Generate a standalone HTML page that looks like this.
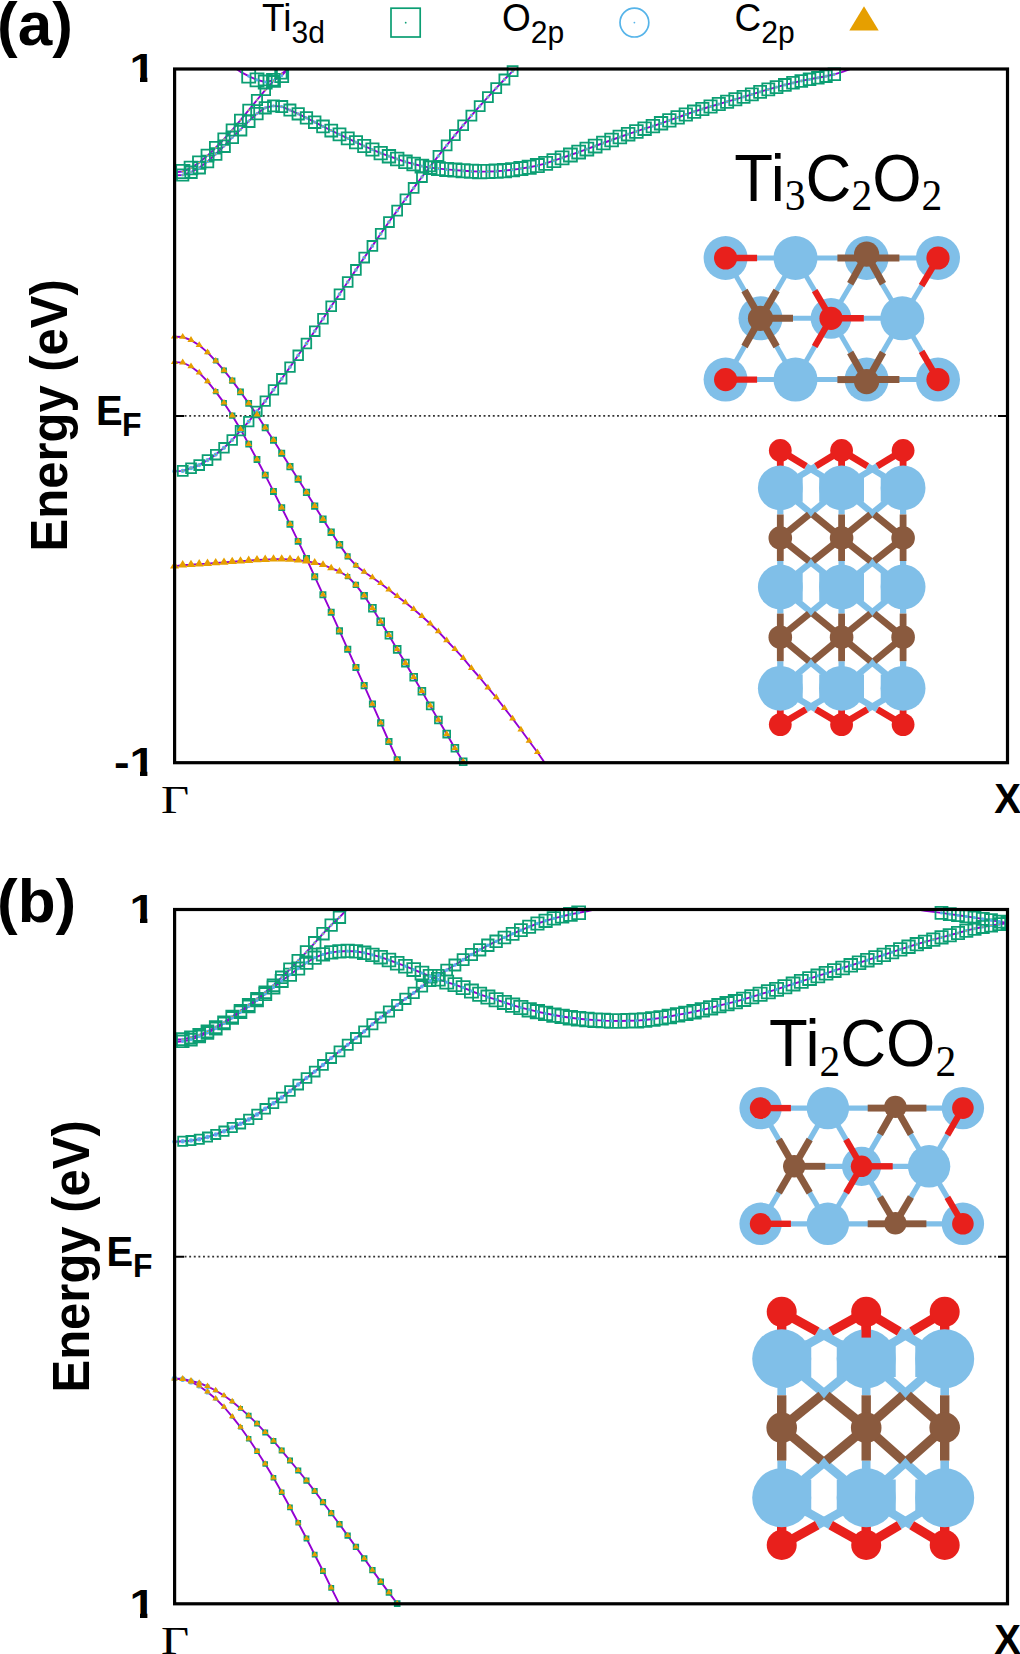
<!DOCTYPE html>
<html lang="en"><head><meta charset="utf-8"><title>Band structure</title>
<style>html,body{margin:0;padding:0;background:#fff}svg{display:block}</style></head>
<body>
<svg width="1020" height="1654" viewBox="0 0 1020 1654">
<defs><clipPath id="ca"><rect x="174.6" y="69.0" width="832.9" height="693.7"/></clipPath><clipPath id="cb"><rect x="174.6" y="909.5" width="832.9" height="694.3"/></clipPath><clipPath id="cax"><rect x="174.6" y="0" width="832.9" height="1654"/></clipPath><clipPath id="cbx"><rect x="174.6" y="0" width="832.9" height="1654"/></clipPath></defs>
<rect width="1020" height="1654" fill="#fff"/>
<g stroke-linecap="butt">
<line x1="725.6" y1="258" x2="938" y2="258" stroke="#80bfe8" stroke-width="5"/>
<line x1="725.6" y1="379.6" x2="938" y2="379.6" stroke="#80bfe8" stroke-width="5"/>
<line x1="760.5" y1="318.3" x2="902.3" y2="318.3" stroke="#80bfe8" stroke-width="5"/>
<line x1="725.6" y1="258" x2="760.5" y2="318.3" stroke="#80bfe8" stroke-width="5"/>
<line x1="795.5" y1="258" x2="760.5" y2="318.3" stroke="#80bfe8" stroke-width="5"/>
<line x1="795.5" y1="258" x2="831" y2="318.3" stroke="#80bfe8" stroke-width="5"/>
<line x1="866.6" y1="258" x2="831" y2="318.3" stroke="#80bfe8" stroke-width="5"/>
<line x1="866.6" y1="258" x2="902.3" y2="318.3" stroke="#80bfe8" stroke-width="5"/>
<line x1="938" y1="258" x2="902.3" y2="318.3" stroke="#80bfe8" stroke-width="5"/>
<line x1="725.6" y1="379.6" x2="760.5" y2="318.3" stroke="#80bfe8" stroke-width="5"/>
<line x1="795.5" y1="379.6" x2="760.5" y2="318.3" stroke="#80bfe8" stroke-width="5"/>
<line x1="795.5" y1="379.6" x2="831" y2="318.3" stroke="#80bfe8" stroke-width="5"/>
<line x1="866.6" y1="379.6" x2="831" y2="318.3" stroke="#80bfe8" stroke-width="5"/>
<line x1="866.6" y1="379.6" x2="902.3" y2="318.3" stroke="#80bfe8" stroke-width="5"/>
<line x1="938" y1="379.6" x2="902.3" y2="318.3" stroke="#80bfe8" stroke-width="5"/>
<circle cx="725.6" cy="258" r="22" fill="#80bfe8"/>
<circle cx="795.5" cy="258" r="22" fill="#80bfe8"/>
<circle cx="938" cy="258" r="22" fill="#80bfe8"/>
<circle cx="831" cy="318.3" r="20.4" fill="#80bfe8"/>
<circle cx="902.3" cy="318.3" r="22" fill="#80bfe8"/>
<circle cx="725.6" cy="379.6" r="22" fill="#80bfe8"/>
<circle cx="795.5" cy="379.6" r="22" fill="#80bfe8"/>
<circle cx="938" cy="379.6" r="22" fill="#80bfe8"/>
<circle cx="866.6" cy="258" r="22" fill="#80bfe8"/>
<circle cx="760.5" cy="318.3" r="22" fill="#80bfe8"/>
<circle cx="866.6" cy="379.6" r="22" fill="#80bfe8"/>
<line x1="866.6" y1="258" x2="837.4" y2="258" stroke="#8a5a3e" stroke-width="7"/>
<line x1="866.6" y1="258" x2="899.4" y2="258" stroke="#8a5a3e" stroke-width="7"/>
<line x1="866.6" y1="254.2" x2="850.2" y2="283.7" stroke="#8a5a3e" stroke-width="7"/>
<line x1="866.6" y1="254.2" x2="883" y2="283.7" stroke="#8a5a3e" stroke-width="7"/>
<line x1="866.6" y1="379.6" x2="837.4" y2="379.6" stroke="#8a5a3e" stroke-width="7"/>
<line x1="866.6" y1="379.6" x2="899.4" y2="379.6" stroke="#8a5a3e" stroke-width="7"/>
<line x1="866.6" y1="381.6" x2="850.2" y2="352.5" stroke="#8a5a3e" stroke-width="7"/>
<line x1="866.6" y1="381.6" x2="883" y2="352.5" stroke="#8a5a3e" stroke-width="7"/>
<line x1="760.5" y1="318.3" x2="793" y2="318.3" stroke="#8a5a3e" stroke-width="7"/>
<line x1="760.5" y1="318.3" x2="744.5" y2="290.6" stroke="#8a5a3e" stroke-width="7"/>
<line x1="760.5" y1="318.3" x2="776.6" y2="290.6" stroke="#8a5a3e" stroke-width="7"/>
<line x1="760.5" y1="318.3" x2="744.5" y2="346.5" stroke="#8a5a3e" stroke-width="7"/>
<line x1="760.5" y1="318.3" x2="776.6" y2="346.5" stroke="#8a5a3e" stroke-width="7"/>
<line x1="725.6" y1="258" x2="757.1" y2="258" stroke="#e8201c" stroke-width="6.4"/>
<line x1="725.6" y1="379.6" x2="757.1" y2="379.6" stroke="#e8201c" stroke-width="6.4"/>
<line x1="938" y1="258" x2="921.6" y2="285.7" stroke="#e8201c" stroke-width="6.4"/>
<line x1="938" y1="379.6" x2="921.6" y2="351.4" stroke="#e8201c" stroke-width="6.4"/>
<line x1="831" y1="318.3" x2="814.7" y2="290.6" stroke="#e8201c" stroke-width="6.4"/>
<line x1="831" y1="318.3" x2="863.8" y2="318.3" stroke="#e8201c" stroke-width="6.4"/>
<line x1="831" y1="318.3" x2="814.7" y2="346.5" stroke="#e8201c" stroke-width="6.4"/>
<circle cx="866.6" cy="254.2" r="12.6" fill="#8a5a3e"/>
<circle cx="760.5" cy="318.3" r="12.6" fill="#8a5a3e"/>
<circle cx="866.6" cy="381.6" r="12.6" fill="#8a5a3e"/>
<circle cx="725.6" cy="258" r="11.6" fill="#e8201c"/>
<circle cx="938" cy="258" r="11.6" fill="#e8201c"/>
<circle cx="831" cy="318.3" r="11.6" fill="#e8201c"/>
<circle cx="725.6" cy="379.6" r="11.6" fill="#e8201c"/>
<circle cx="938" cy="379.6" r="11.6" fill="#e8201c"/>
<line x1="780.3" y1="466.2" x2="780.3" y2="487.9" stroke="#80bfe8" stroke-width="6.256"/>
<line x1="806" y1="466.2" x2="841.6" y2="487.9" stroke="#80bfe8" stroke-width="6.256"/>
<line x1="841.6" y1="466.2" x2="841.6" y2="487.9" stroke="#80bfe8" stroke-width="6.256"/>
<line x1="815.9" y1="466.2" x2="780.3" y2="487.9" stroke="#80bfe8" stroke-width="6.256"/>
<line x1="867.4" y1="466.2" x2="903.1" y2="487.9" stroke="#80bfe8" stroke-width="6.256"/>
<line x1="903.1" y1="466.2" x2="903.1" y2="487.9" stroke="#80bfe8" stroke-width="6.256"/>
<line x1="877.3" y1="466.2" x2="841.6" y2="487.9" stroke="#80bfe8" stroke-width="6.256"/>
<line x1="780.3" y1="514.5" x2="780.3" y2="487.9" stroke="#80bfe8" stroke-width="6.256"/>
<line x1="812.8" y1="514.5" x2="780.3" y2="487.9" stroke="#80bfe8" stroke-width="6.256"/>
<line x1="841.6" y1="514.5" x2="841.6" y2="487.9" stroke="#80bfe8" stroke-width="6.256"/>
<line x1="809.1" y1="514.5" x2="841.6" y2="487.9" stroke="#80bfe8" stroke-width="6.256"/>
<line x1="874.2" y1="514.5" x2="841.6" y2="487.9" stroke="#80bfe8" stroke-width="6.256"/>
<line x1="903.1" y1="514.5" x2="903.1" y2="487.9" stroke="#80bfe8" stroke-width="6.256"/>
<line x1="870.5" y1="514.5" x2="903.1" y2="487.9" stroke="#80bfe8" stroke-width="6.256"/>
<line x1="780.3" y1="561" x2="780.3" y2="587" stroke="#80bfe8" stroke-width="6.256"/>
<line x1="809.1" y1="561" x2="841.6" y2="587" stroke="#80bfe8" stroke-width="6.256"/>
<line x1="841.6" y1="561" x2="841.6" y2="587" stroke="#80bfe8" stroke-width="6.256"/>
<line x1="812.8" y1="561" x2="780.3" y2="587" stroke="#80bfe8" stroke-width="6.256"/>
<line x1="870.5" y1="561" x2="903.1" y2="587" stroke="#80bfe8" stroke-width="6.256"/>
<line x1="903.1" y1="561" x2="903.1" y2="587" stroke="#80bfe8" stroke-width="6.256"/>
<line x1="874.2" y1="561" x2="841.6" y2="587" stroke="#80bfe8" stroke-width="6.256"/>
<line x1="780.3" y1="613.6" x2="780.3" y2="587" stroke="#80bfe8" stroke-width="6.256"/>
<line x1="812.8" y1="613.6" x2="780.3" y2="587" stroke="#80bfe8" stroke-width="6.256"/>
<line x1="841.6" y1="613.6" x2="841.6" y2="587" stroke="#80bfe8" stroke-width="6.256"/>
<line x1="809.1" y1="613.6" x2="841.6" y2="587" stroke="#80bfe8" stroke-width="6.256"/>
<line x1="874.2" y1="613.6" x2="841.6" y2="587" stroke="#80bfe8" stroke-width="6.256"/>
<line x1="903.1" y1="613.6" x2="903.1" y2="587" stroke="#80bfe8" stroke-width="6.256"/>
<line x1="870.5" y1="613.6" x2="903.1" y2="587" stroke="#80bfe8" stroke-width="6.256"/>
<line x1="780.3" y1="661.2" x2="780.3" y2="688.3" stroke="#80bfe8" stroke-width="6.256"/>
<line x1="809.1" y1="661.2" x2="841.6" y2="688.3" stroke="#80bfe8" stroke-width="6.256"/>
<line x1="841.6" y1="661.2" x2="841.6" y2="688.3" stroke="#80bfe8" stroke-width="6.256"/>
<line x1="812.8" y1="661.2" x2="780.3" y2="688.3" stroke="#80bfe8" stroke-width="6.256"/>
<line x1="870.5" y1="661.2" x2="903.1" y2="688.3" stroke="#80bfe8" stroke-width="6.256"/>
<line x1="903.1" y1="661.2" x2="903.1" y2="688.3" stroke="#80bfe8" stroke-width="6.256"/>
<line x1="874.2" y1="661.2" x2="841.6" y2="688.3" stroke="#80bfe8" stroke-width="6.256"/>
<line x1="780.3" y1="709.4" x2="780.3" y2="688.3" stroke="#80bfe8" stroke-width="6.256"/>
<line x1="815.9" y1="709.4" x2="780.3" y2="688.3" stroke="#80bfe8" stroke-width="6.256"/>
<line x1="841.6" y1="709.4" x2="841.6" y2="688.3" stroke="#80bfe8" stroke-width="6.256"/>
<line x1="806" y1="709.4" x2="841.6" y2="688.3" stroke="#80bfe8" stroke-width="6.256"/>
<line x1="877.3" y1="709.4" x2="841.6" y2="688.3" stroke="#80bfe8" stroke-width="6.256"/>
<line x1="903.1" y1="709.4" x2="903.1" y2="688.3" stroke="#80bfe8" stroke-width="6.256"/>
<line x1="867.4" y1="709.4" x2="903.1" y2="688.3" stroke="#80bfe8" stroke-width="6.256"/>
<line x1="800.2" y1="474" x2="800.2" y2="501.8" stroke="#80bfe8" stroke-width="5.0"/>
<line x1="821.7" y1="474" x2="821.7" y2="501.8" stroke="#80bfe8" stroke-width="5.0"/>
<line x1="861.5" y1="474" x2="861.5" y2="501.8" stroke="#80bfe8" stroke-width="5.0"/>
<line x1="883.2" y1="474" x2="883.2" y2="501.8" stroke="#80bfe8" stroke-width="5.0"/>
<line x1="800.2" y1="573.1" x2="800.2" y2="600.9" stroke="#80bfe8" stroke-width="5.0"/>
<line x1="821.7" y1="573.1" x2="821.7" y2="600.9" stroke="#80bfe8" stroke-width="5.0"/>
<line x1="861.5" y1="573.1" x2="861.5" y2="600.9" stroke="#80bfe8" stroke-width="5.0"/>
<line x1="883.2" y1="573.1" x2="883.2" y2="600.9" stroke="#80bfe8" stroke-width="5.0"/>
<line x1="800.2" y1="674.4" x2="800.2" y2="702.2" stroke="#80bfe8" stroke-width="5.0"/>
<line x1="821.7" y1="674.4" x2="821.7" y2="702.2" stroke="#80bfe8" stroke-width="5.0"/>
<line x1="861.5" y1="674.4" x2="861.5" y2="702.2" stroke="#80bfe8" stroke-width="5.0"/>
<line x1="883.2" y1="674.4" x2="883.2" y2="702.2" stroke="#80bfe8" stroke-width="5.0"/>
<line x1="780.3" y1="450.5" x2="780.3" y2="466.2" stroke="#e8201c" stroke-width="6.8"/>
<line x1="780.3" y1="450.5" x2="806" y2="466.2" stroke="#e8201c" stroke-width="6.8"/>
<line x1="841.6" y1="450.5" x2="841.6" y2="466.2" stroke="#e8201c" stroke-width="6.8"/>
<line x1="841.6" y1="450.5" x2="815.9" y2="466.2" stroke="#e8201c" stroke-width="6.8"/>
<line x1="841.6" y1="450.5" x2="867.4" y2="466.2" stroke="#e8201c" stroke-width="6.8"/>
<line x1="903.1" y1="450.5" x2="903.1" y2="466.2" stroke="#e8201c" stroke-width="6.8"/>
<line x1="903.1" y1="450.5" x2="877.3" y2="466.2" stroke="#e8201c" stroke-width="6.8"/>
<line x1="780.3" y1="538" x2="780.3" y2="514.5" stroke="#8a5a3e" stroke-width="6.8"/>
<line x1="841.6" y1="538" x2="812.8" y2="514.5" stroke="#8a5a3e" stroke-width="6.8"/>
<line x1="841.6" y1="538" x2="841.6" y2="514.5" stroke="#8a5a3e" stroke-width="6.8"/>
<line x1="780.3" y1="538" x2="809.1" y2="514.5" stroke="#8a5a3e" stroke-width="6.8"/>
<line x1="903.1" y1="538" x2="874.2" y2="514.5" stroke="#8a5a3e" stroke-width="6.8"/>
<line x1="903.1" y1="538" x2="903.1" y2="514.5" stroke="#8a5a3e" stroke-width="6.8"/>
<line x1="841.6" y1="538" x2="870.5" y2="514.5" stroke="#8a5a3e" stroke-width="6.8"/>
<line x1="780.3" y1="538" x2="780.3" y2="561" stroke="#8a5a3e" stroke-width="6.8"/>
<line x1="780.3" y1="538" x2="809.1" y2="561" stroke="#8a5a3e" stroke-width="6.8"/>
<line x1="841.6" y1="538" x2="841.6" y2="561" stroke="#8a5a3e" stroke-width="6.8"/>
<line x1="841.6" y1="538" x2="812.8" y2="561" stroke="#8a5a3e" stroke-width="6.8"/>
<line x1="841.6" y1="538" x2="870.5" y2="561" stroke="#8a5a3e" stroke-width="6.8"/>
<line x1="903.1" y1="538" x2="903.1" y2="561" stroke="#8a5a3e" stroke-width="6.8"/>
<line x1="903.1" y1="538" x2="874.2" y2="561" stroke="#8a5a3e" stroke-width="6.8"/>
<line x1="780.3" y1="637.2" x2="780.3" y2="613.6" stroke="#8a5a3e" stroke-width="6.8"/>
<line x1="841.6" y1="637.2" x2="812.8" y2="613.6" stroke="#8a5a3e" stroke-width="6.8"/>
<line x1="841.6" y1="637.2" x2="841.6" y2="613.6" stroke="#8a5a3e" stroke-width="6.8"/>
<line x1="780.3" y1="637.2" x2="809.1" y2="613.6" stroke="#8a5a3e" stroke-width="6.8"/>
<line x1="903.1" y1="637.2" x2="874.2" y2="613.6" stroke="#8a5a3e" stroke-width="6.8"/>
<line x1="903.1" y1="637.2" x2="903.1" y2="613.6" stroke="#8a5a3e" stroke-width="6.8"/>
<line x1="841.6" y1="637.2" x2="870.5" y2="613.6" stroke="#8a5a3e" stroke-width="6.8"/>
<line x1="780.3" y1="637.2" x2="780.3" y2="661.2" stroke="#8a5a3e" stroke-width="6.8"/>
<line x1="780.3" y1="637.2" x2="809.1" y2="661.2" stroke="#8a5a3e" stroke-width="6.8"/>
<line x1="841.6" y1="637.2" x2="841.6" y2="661.2" stroke="#8a5a3e" stroke-width="6.8"/>
<line x1="841.6" y1="637.2" x2="812.8" y2="661.2" stroke="#8a5a3e" stroke-width="6.8"/>
<line x1="841.6" y1="637.2" x2="870.5" y2="661.2" stroke="#8a5a3e" stroke-width="6.8"/>
<line x1="903.1" y1="637.2" x2="903.1" y2="661.2" stroke="#8a5a3e" stroke-width="6.8"/>
<line x1="903.1" y1="637.2" x2="874.2" y2="661.2" stroke="#8a5a3e" stroke-width="6.8"/>
<line x1="780.3" y1="724.6" x2="780.3" y2="709.4" stroke="#e8201c" stroke-width="6.8"/>
<line x1="841.6" y1="724.6" x2="815.9" y2="709.4" stroke="#e8201c" stroke-width="6.8"/>
<line x1="841.6" y1="724.6" x2="841.6" y2="709.4" stroke="#e8201c" stroke-width="6.8"/>
<line x1="780.3" y1="724.6" x2="806" y2="709.4" stroke="#e8201c" stroke-width="6.8"/>
<line x1="903.1" y1="724.6" x2="877.3" y2="709.4" stroke="#e8201c" stroke-width="6.8"/>
<line x1="903.1" y1="724.6" x2="903.1" y2="709.4" stroke="#e8201c" stroke-width="6.8"/>
<line x1="841.6" y1="724.6" x2="867.4" y2="709.4" stroke="#e8201c" stroke-width="6.8"/>
<circle cx="780.3" cy="487.9" r="22.4" fill="#80bfe8"/>
<circle cx="841.6" cy="487.9" r="22.4" fill="#80bfe8"/>
<circle cx="903.1" cy="487.9" r="22.4" fill="#80bfe8"/>
<circle cx="780.3" cy="587" r="22.4" fill="#80bfe8"/>
<circle cx="841.6" cy="587" r="22.4" fill="#80bfe8"/>
<circle cx="903.1" cy="587" r="22.4" fill="#80bfe8"/>
<circle cx="780.3" cy="688.3" r="22.4" fill="#80bfe8"/>
<circle cx="841.6" cy="688.3" r="22.4" fill="#80bfe8"/>
<circle cx="903.1" cy="688.3" r="22.4" fill="#80bfe8"/>
<circle cx="780.3" cy="450.5" r="11.4" fill="#e8201c"/>
<circle cx="841.6" cy="450.5" r="11.4" fill="#e8201c"/>
<circle cx="903.1" cy="450.5" r="11.4" fill="#e8201c"/>
<circle cx="780.3" cy="538" r="11.8" fill="#8a5a3e"/>
<circle cx="841.6" cy="538" r="11.8" fill="#8a5a3e"/>
<circle cx="903.1" cy="538" r="11.8" fill="#8a5a3e"/>
<circle cx="780.3" cy="637.2" r="11.8" fill="#8a5a3e"/>
<circle cx="841.6" cy="637.2" r="11.8" fill="#8a5a3e"/>
<circle cx="903.1" cy="637.2" r="11.8" fill="#8a5a3e"/>
<circle cx="780.3" cy="724.6" r="11.4" fill="#e8201c"/>
<circle cx="841.6" cy="724.6" r="11.4" fill="#e8201c"/>
<circle cx="903.1" cy="724.6" r="11.4" fill="#e8201c"/>
<line x1="760.6" y1="1108.1" x2="962.9" y2="1108.1" stroke="#80bfe8" stroke-width="5.3"/>
<line x1="760.6" y1="1223.8" x2="962.9" y2="1223.8" stroke="#80bfe8" stroke-width="5.3"/>
<line x1="794.2" y1="1166.3" x2="929.1" y2="1166.3" stroke="#80bfe8" stroke-width="5.3"/>
<line x1="760.6" y1="1108.1" x2="794.2" y2="1166.3" stroke="#80bfe8" stroke-width="5.3"/>
<line x1="827.9" y1="1108.1" x2="794.2" y2="1166.3" stroke="#80bfe8" stroke-width="5.3"/>
<line x1="827.9" y1="1108.1" x2="861.6" y2="1166.3" stroke="#80bfe8" stroke-width="5.3"/>
<line x1="895.4" y1="1108.1" x2="861.6" y2="1166.3" stroke="#80bfe8" stroke-width="5.3"/>
<line x1="895.4" y1="1108.1" x2="929.1" y2="1166.3" stroke="#80bfe8" stroke-width="5.3"/>
<line x1="962.9" y1="1108.1" x2="929.1" y2="1166.3" stroke="#80bfe8" stroke-width="5.3"/>
<line x1="760.6" y1="1223.8" x2="794.2" y2="1166.3" stroke="#80bfe8" stroke-width="5.3"/>
<line x1="827.9" y1="1223.8" x2="794.2" y2="1166.3" stroke="#80bfe8" stroke-width="5.3"/>
<line x1="827.9" y1="1223.8" x2="861.6" y2="1166.3" stroke="#80bfe8" stroke-width="5.3"/>
<line x1="895.4" y1="1223.8" x2="861.6" y2="1166.3" stroke="#80bfe8" stroke-width="5.3"/>
<line x1="895.4" y1="1223.8" x2="929.1" y2="1166.3" stroke="#80bfe8" stroke-width="5.3"/>
<line x1="962.9" y1="1223.8" x2="929.1" y2="1166.3" stroke="#80bfe8" stroke-width="5.3"/>
<circle cx="760.6" cy="1108.1" r="21.2" fill="#80bfe8"/>
<circle cx="827.9" cy="1108.1" r="21.2" fill="#80bfe8"/>
<circle cx="962.9" cy="1108.1" r="21.2" fill="#80bfe8"/>
<circle cx="861.6" cy="1166.3" r="19.6" fill="#80bfe8"/>
<circle cx="929.1" cy="1166.3" r="21.2" fill="#80bfe8"/>
<circle cx="760.6" cy="1223.8" r="21.2" fill="#80bfe8"/>
<circle cx="827.9" cy="1223.8" r="21.2" fill="#80bfe8"/>
<circle cx="962.9" cy="1223.8" r="21.2" fill="#80bfe8"/>
<line x1="895.4" y1="1108.1" x2="867.7" y2="1108.1" stroke="#8a5a3e" stroke-width="6.9"/>
<line x1="895.4" y1="1108.1" x2="926.4" y2="1108.1" stroke="#8a5a3e" stroke-width="6.9"/>
<line x1="895.4" y1="1106.9" x2="879.9" y2="1134.2" stroke="#8a5a3e" stroke-width="6.9"/>
<line x1="895.4" y1="1106.9" x2="910.9" y2="1134.2" stroke="#8a5a3e" stroke-width="6.9"/>
<line x1="895.4" y1="1223.8" x2="867.7" y2="1223.8" stroke="#8a5a3e" stroke-width="6.9"/>
<line x1="895.4" y1="1223.8" x2="926.4" y2="1223.8" stroke="#8a5a3e" stroke-width="6.9"/>
<line x1="895.4" y1="1223.3" x2="879.9" y2="1197.1" stroke="#8a5a3e" stroke-width="6.9"/>
<line x1="895.4" y1="1223.3" x2="910.9" y2="1197.1" stroke="#8a5a3e" stroke-width="6.9"/>
<line x1="794.2" y1="1166.3" x2="825.3" y2="1166.3" stroke="#8a5a3e" stroke-width="6.9"/>
<line x1="794.2" y1="1166.3" x2="778.8" y2="1139.5" stroke="#8a5a3e" stroke-width="6.9"/>
<line x1="794.2" y1="1166.3" x2="809.7" y2="1139.5" stroke="#8a5a3e" stroke-width="6.9"/>
<line x1="794.2" y1="1166.3" x2="778.8" y2="1192.8" stroke="#8a5a3e" stroke-width="6.9"/>
<line x1="794.2" y1="1166.3" x2="809.7" y2="1192.8" stroke="#8a5a3e" stroke-width="6.9"/>
<line x1="760.6" y1="1108.1" x2="790.9" y2="1108.1" stroke="#e8201c" stroke-width="6.4"/>
<line x1="760.6" y1="1223.8" x2="790.9" y2="1223.8" stroke="#e8201c" stroke-width="6.4"/>
<line x1="962.9" y1="1108.1" x2="947.4" y2="1134.9" stroke="#e8201c" stroke-width="6.4"/>
<line x1="962.9" y1="1223.8" x2="947.4" y2="1197.3" stroke="#e8201c" stroke-width="6.4"/>
<line x1="861.6" y1="1166.3" x2="846.1" y2="1139.5" stroke="#e8201c" stroke-width="6.4"/>
<line x1="861.6" y1="1166.3" x2="892.7" y2="1166.3" stroke="#e8201c" stroke-width="6.4"/>
<line x1="861.6" y1="1166.3" x2="846.1" y2="1192.8" stroke="#e8201c" stroke-width="6.4"/>
<circle cx="895.4" cy="1106.9" r="11.2" fill="#8a5a3e"/>
<circle cx="794.2" cy="1166.3" r="11.2" fill="#8a5a3e"/>
<circle cx="895.4" cy="1223.3" r="11.2" fill="#8a5a3e"/>
<circle cx="760.6" cy="1108.1" r="10.8" fill="#e8201c"/>
<circle cx="962.9" cy="1108.1" r="10.8" fill="#e8201c"/>
<circle cx="861.6" cy="1166.3" r="10.8" fill="#e8201c"/>
<circle cx="760.6" cy="1223.8" r="10.8" fill="#e8201c"/>
<circle cx="962.9" cy="1223.8" r="10.8" fill="#e8201c"/>
<line x1="781.7" y1="1331.5" x2="781.7" y2="1358.7" stroke="#80bfe8" stroke-width="8.648000000000001"/>
<line x1="817.2" y1="1331.5" x2="866.2" y2="1358.7" stroke="#80bfe8" stroke-width="8.648000000000001"/>
<line x1="866.2" y1="1331.5" x2="866.2" y2="1358.7" stroke="#80bfe8" stroke-width="8.648000000000001"/>
<line x1="830.7" y1="1331.5" x2="781.7" y2="1358.7" stroke="#80bfe8" stroke-width="8.648000000000001"/>
<line x1="899.2" y1="1331.5" x2="944.7" y2="1358.7" stroke="#80bfe8" stroke-width="8.648000000000001"/>
<line x1="944.7" y1="1331.5" x2="944.7" y2="1358.7" stroke="#80bfe8" stroke-width="8.648000000000001"/>
<line x1="911.7" y1="1331.5" x2="866.2" y2="1358.7" stroke="#80bfe8" stroke-width="8.648000000000001"/>
<line x1="781.7" y1="1395.3" x2="781.7" y2="1358.7" stroke="#80bfe8" stroke-width="8.648000000000001"/>
<line x1="826.5" y1="1395.3" x2="781.7" y2="1358.7" stroke="#80bfe8" stroke-width="8.648000000000001"/>
<line x1="866.2" y1="1395.3" x2="866.2" y2="1358.7" stroke="#80bfe8" stroke-width="8.648000000000001"/>
<line x1="821.4" y1="1395.3" x2="866.2" y2="1358.7" stroke="#80bfe8" stroke-width="8.648000000000001"/>
<line x1="907.8" y1="1395.3" x2="866.2" y2="1358.7" stroke="#80bfe8" stroke-width="8.648000000000001"/>
<line x1="944.7" y1="1395.3" x2="944.7" y2="1358.7" stroke="#80bfe8" stroke-width="8.648000000000001"/>
<line x1="903.1" y1="1395.3" x2="944.7" y2="1358.7" stroke="#80bfe8" stroke-width="8.648000000000001"/>
<line x1="781.7" y1="1460.6" x2="781.7" y2="1497.8" stroke="#80bfe8" stroke-width="8.648000000000001"/>
<line x1="821.4" y1="1460.6" x2="866.2" y2="1497.8" stroke="#80bfe8" stroke-width="8.648000000000001"/>
<line x1="866.2" y1="1460.6" x2="866.2" y2="1497.8" stroke="#80bfe8" stroke-width="8.648000000000001"/>
<line x1="826.5" y1="1460.6" x2="781.7" y2="1497.8" stroke="#80bfe8" stroke-width="8.648000000000001"/>
<line x1="903.1" y1="1460.6" x2="944.7" y2="1497.8" stroke="#80bfe8" stroke-width="8.648000000000001"/>
<line x1="944.7" y1="1460.6" x2="944.7" y2="1497.8" stroke="#80bfe8" stroke-width="8.648000000000001"/>
<line x1="907.8" y1="1460.6" x2="866.2" y2="1497.8" stroke="#80bfe8" stroke-width="8.648000000000001"/>
<line x1="781.7" y1="1525.2" x2="781.7" y2="1497.8" stroke="#80bfe8" stroke-width="8.648000000000001"/>
<line x1="830.7" y1="1525.2" x2="781.7" y2="1497.8" stroke="#80bfe8" stroke-width="8.648000000000001"/>
<line x1="866.2" y1="1525.2" x2="866.2" y2="1497.8" stroke="#80bfe8" stroke-width="8.648000000000001"/>
<line x1="817.2" y1="1525.2" x2="866.2" y2="1497.8" stroke="#80bfe8" stroke-width="8.648000000000001"/>
<line x1="911.7" y1="1525.2" x2="866.2" y2="1497.8" stroke="#80bfe8" stroke-width="8.648000000000001"/>
<line x1="944.7" y1="1525.2" x2="944.7" y2="1497.8" stroke="#80bfe8" stroke-width="8.648000000000001"/>
<line x1="899.2" y1="1525.2" x2="944.7" y2="1497.8" stroke="#80bfe8" stroke-width="8.648000000000001"/>
<line x1="808" y1="1340.4" x2="808" y2="1377" stroke="#80bfe8" stroke-width="6.5"/>
<line x1="840" y1="1340.4" x2="840" y2="1377" stroke="#80bfe8" stroke-width="6.5"/>
<line x1="892.5" y1="1340.4" x2="892.5" y2="1377" stroke="#80bfe8" stroke-width="6.5"/>
<line x1="918.5" y1="1340.4" x2="918.5" y2="1377" stroke="#80bfe8" stroke-width="6.5"/>
<line x1="808" y1="1479.5" x2="808" y2="1516.1" stroke="#80bfe8" stroke-width="6.5"/>
<line x1="840" y1="1479.5" x2="840" y2="1516.1" stroke="#80bfe8" stroke-width="6.5"/>
<line x1="892.5" y1="1479.5" x2="892.5" y2="1516.1" stroke="#80bfe8" stroke-width="6.5"/>
<line x1="918.5" y1="1479.5" x2="918.5" y2="1516.1" stroke="#80bfe8" stroke-width="6.5"/>
<line x1="781.7" y1="1311.8" x2="781.7" y2="1331.5" stroke="#e8201c" stroke-width="9.4"/>
<line x1="781.7" y1="1311.8" x2="817.2" y2="1331.5" stroke="#e8201c" stroke-width="9.4"/>
<line x1="866.2" y1="1311.8" x2="866.2" y2="1331.5" stroke="#e8201c" stroke-width="9.4"/>
<line x1="866.2" y1="1311.8" x2="830.7" y2="1331.5" stroke="#e8201c" stroke-width="9.4"/>
<line x1="866.2" y1="1311.8" x2="899.2" y2="1331.5" stroke="#e8201c" stroke-width="9.4"/>
<line x1="944.7" y1="1311.8" x2="944.7" y2="1331.5" stroke="#e8201c" stroke-width="9.4"/>
<line x1="944.7" y1="1311.8" x2="911.7" y2="1331.5" stroke="#e8201c" stroke-width="9.4"/>
<line x1="781.7" y1="1427.7" x2="781.7" y2="1395.3" stroke="#8a5a3e" stroke-width="9.4"/>
<line x1="866.2" y1="1427.7" x2="826.5" y2="1395.3" stroke="#8a5a3e" stroke-width="9.4"/>
<line x1="866.2" y1="1427.7" x2="866.2" y2="1395.3" stroke="#8a5a3e" stroke-width="9.4"/>
<line x1="781.7" y1="1427.7" x2="821.4" y2="1395.3" stroke="#8a5a3e" stroke-width="9.4"/>
<line x1="944.7" y1="1427.7" x2="907.8" y2="1395.3" stroke="#8a5a3e" stroke-width="9.4"/>
<line x1="944.7" y1="1427.7" x2="944.7" y2="1395.3" stroke="#8a5a3e" stroke-width="9.4"/>
<line x1="866.2" y1="1427.7" x2="903.1" y2="1395.3" stroke="#8a5a3e" stroke-width="9.4"/>
<line x1="781.7" y1="1427.7" x2="781.7" y2="1460.6" stroke="#8a5a3e" stroke-width="9.4"/>
<line x1="781.7" y1="1427.7" x2="821.4" y2="1460.6" stroke="#8a5a3e" stroke-width="9.4"/>
<line x1="866.2" y1="1427.7" x2="866.2" y2="1460.6" stroke="#8a5a3e" stroke-width="9.4"/>
<line x1="866.2" y1="1427.7" x2="826.5" y2="1460.6" stroke="#8a5a3e" stroke-width="9.4"/>
<line x1="866.2" y1="1427.7" x2="903.1" y2="1460.6" stroke="#8a5a3e" stroke-width="9.4"/>
<line x1="944.7" y1="1427.7" x2="944.7" y2="1460.6" stroke="#8a5a3e" stroke-width="9.4"/>
<line x1="944.7" y1="1427.7" x2="907.8" y2="1460.6" stroke="#8a5a3e" stroke-width="9.4"/>
<line x1="781.7" y1="1545" x2="781.7" y2="1525.2" stroke="#e8201c" stroke-width="9.4"/>
<line x1="866.2" y1="1545" x2="830.7" y2="1525.2" stroke="#e8201c" stroke-width="9.4"/>
<line x1="866.2" y1="1545" x2="866.2" y2="1525.2" stroke="#e8201c" stroke-width="9.4"/>
<line x1="781.7" y1="1545" x2="817.2" y2="1525.2" stroke="#e8201c" stroke-width="9.4"/>
<line x1="944.7" y1="1545" x2="911.7" y2="1525.2" stroke="#e8201c" stroke-width="9.4"/>
<line x1="944.7" y1="1545" x2="944.7" y2="1525.2" stroke="#e8201c" stroke-width="9.4"/>
<line x1="866.2" y1="1545" x2="899.2" y2="1525.2" stroke="#e8201c" stroke-width="9.4"/>
<circle cx="781.7" cy="1358.7" r="29.5" fill="#80bfe8"/>
<circle cx="866.2" cy="1358.7" r="29.5" fill="#80bfe8"/>
<circle cx="944.7" cy="1358.7" r="29.5" fill="#80bfe8"/>
<circle cx="781.7" cy="1497.8" r="29.5" fill="#80bfe8"/>
<circle cx="866.2" cy="1497.8" r="29.5" fill="#80bfe8"/>
<circle cx="944.7" cy="1497.8" r="29.5" fill="#80bfe8"/>
<line x1="866.2" y1="1311.8" x2="866.2" y2="1337.6" stroke="#e8201c" stroke-width="9.4"/>
<circle cx="781.7" cy="1311.8" r="15" fill="#e8201c"/>
<circle cx="866.2" cy="1311.8" r="15" fill="#e8201c"/>
<circle cx="944.7" cy="1311.8" r="15" fill="#e8201c"/>
<circle cx="781.7" cy="1427.7" r="15.3" fill="#8a5a3e"/>
<circle cx="866.2" cy="1427.7" r="15.3" fill="#8a5a3e"/>
<circle cx="944.7" cy="1427.7" r="15.3" fill="#8a5a3e"/>
<circle cx="781.7" cy="1545" r="15" fill="#e8201c"/>
<circle cx="866.2" cy="1545" r="15" fill="#e8201c"/>
<circle cx="944.7" cy="1545" r="15" fill="#e8201c"/>
</g>
<line x1="184.6" y1="415.9" x2="997.5" y2="415.9" stroke="#333" stroke-width="1.7" stroke-dasharray="1.9 2.7"/>
<g clip-path="url(#ca)" fill="none" stroke="#9400d3" stroke-width="1.9" stroke-linejoin="round"><polyline points="174.5,175.3 182.7,175 191,172.2 199.2,167.8 207.5,161.5 215.7,154 224,146.1 232.2,137.4 240.5,129.6 248.7,121.1 257,113.6 265.2,107.8 273.5,105.9 281.7,106.6 290,110.1 298.2,113.8 306.5,117.9 314.7,122.2 323,126.4 331.2,130.5 339.5,134.4 347.7,138.3 355.9,142.2 364.2,146 372.4,149.6 380.7,153.1 388.9,156.2 397.2,159 405.4,161.8 413.7,164 421.9,166.1 430.2,167.6 438.4,168.6 446.7,169.4 454.9,170.1 463.2,170.8 471.4,171.3 479.7,171.6 487.9,171.5 496.2,171.2 504.4,170.6 512.6,169.7 520.9,168.6 529.1,167.2 537.4,165.6 545.6,163.4 553.9,160.7 562.1,157.8 570.4,155 578.6,152.1 586.9,149.1 595.1,146 603.4,143 611.6,140 619.9,137 628.1,134.1 636.4,131.4 644.6,128.7 652.9,126.1 661.1,123.3 669.4,120.4 677.6,117.5 685.8,114.5 694.1,111.7 702.3,109 710.6,106.5 718.8,104.1 727.1,101.7 735.3,99.3 743.6,96.8 751.8,94.3 760.1,91.8 768.3,89.4 776.6,87.1 784.8,84.9 793.1,82.9 801.3,80.9 809.6,79.3 817.8,77.8 826.1,76.2 834.3,74.3 842.5,71.8 850.8,68.9 853.3,67.9"/><polyline points="174.5,172.3 182.7,171.5 191,168 199.2,162.6 207.5,155.6 215.7,147.7 224,139.1 232.2,130 240.5,120.2 248.7,110.2 257,100 265.2,90.2 273.5,80.8 281.7,73.7 290,67.5"/><polyline points="232.2,66 240.5,71.8 248.7,76.1 257,79.9 265.2,82 273.5,80.4 281.7,75.6 290,67"/><polyline points="174.5,471.2 182.7,470.9 191,468.2 199.2,465.1 207.5,460.1 215.7,454.6 224,447.8 232.2,440 240.5,430.6 248.7,421.6 257,411.3 265.2,401.1 273.5,389.8 281.7,378.8 290,367.1 298.2,355.3 306.5,343.5 314.7,331.1 323,318.8 331.2,306.3 339.5,294.2 347.7,282 355.9,269.9 364.2,257.6 372.4,245.9 380.7,233.8 388.9,222 397.2,210.6 405.4,199.2 413.7,187.9 421.9,177 430.2,166.4 438.4,155.9 446.7,145.4 454.9,135.2 463.2,125.3 471.4,115.6 479.7,106.2 487.9,97.1 496.2,88.1 504.4,79.5 512.6,71.2 520.9,63"/><polyline points="174.5,336.7 182.7,337 191,340.1 199.2,345.3 207.5,352.4 215.7,361 224,370.4 232.2,380.6 240.5,391.9 248.7,403.4 257,414.8 265.2,427.7 273.5,440.2 281.7,453.2 290,466.6 298.2,479.2 306.5,492.4 314.7,506.1 323,519.2 331.2,532.3 339.5,544.8 347.7,556.4 355.9,565.4 364.2,572 372.4,577.5 380.7,583.4 388.9,589.7 397.2,596.3 405.4,602.6 413.7,609.2 421.9,616.3 430.2,623.8 438.4,631.6 446.7,640.5 454.9,649.2 463.2,658.2 471.4,668.1 479.7,677.5 487.9,687.6 496.2,697.5 504.4,708.1 512.6,718.6 520.9,729.7 529.1,741 537.4,752.3 545.6,764"/><polyline points="174.5,362.1 182.7,362.6 191,366.5 199.2,372.8 207.5,381.4 215.7,391.6 224,402.9 232.2,415.6 240.5,429.2 248.7,444.1 257,459.5 265.2,475.1 273.5,491.4 281.7,507.7 290,524.3 298.2,541.4 306.5,558.5 314.7,576.7 323,594.7 331.2,612.3 339.5,630.8 347.7,649.2 355.9,667.4 364.2,685.7 372.4,704.1 380.7,722.9 388.9,741.5 397.2,759.8 405.4,778"/><polyline points="174.5,566.2 182.7,565.1 191,564.7 199.2,564.1 207.5,563.6 215.7,563 224,562.4 232.2,561.8 240.5,561.2 248.7,560.6 257,560 265.2,559.6 273.5,559.2 281.7,559.2 290,559.4 298.2,560.2 306.5,561.2 314.7,563 323,564.9 331.2,568.2 339.5,571.5 347.7,576.5 355.9,584.9 364.2,595.8 372.4,608.3 380.7,621.7 388.9,635.3 397.2,649.4 405.4,663.1 413.7,677.2 421.9,691.3 430.2,705.9 438.4,720 446.7,734.1 454.9,748.3 463.2,761.7 471.4,775.2"/></g>
<path clip-path="url(#cax)" fill="none" stroke="#0b9e73" stroke-width="1.8" d="M177 169.3h11.4v11.4h-11.4zM185.3 166.5h11.5v11.5h-11.5zM193.5 162h11.5v11.5h-11.5zM201.7 155.7h11.6v11.6h-11.6zM209.9 148.2h11.6v11.6h-11.6zM218.2 140.3h11.7v11.7h-11.7zM226.4 131.5h11.7v11.7h-11.7zM234.6 123.7h11.8v11.8h-11.8zM242.8 115.2h11.8v11.8h-11.8zM251.2 107.8h11.5v11.5h-11.5zM259.6 102.2h11.3v11.3h-11.3zM268 100.4h11v11h-11zM276.2 101h11.1v11.1h-11.1zM284.3 104.5h11.2v11.2h-11.2zM292.5 108.1h11.4v11.4h-11.4zM300.7 112.2h11.5v11.5h-11.5zM308.9 116.4h11.6v11.6h-11.6zM317.1 120.5h11.8v11.8h-11.8zM325.3 124.6h11.9v11.9h-11.9zM333.5 128.4h12v12h-12zM341.7 132.3h12.1v12.1h-12.1zM349.9 136.1h12.2v12.2h-12.2zM358.1 139.9h12.2v12.2h-12.2zM366.3 143.4h12.3v12.3h-12.3zM374.5 146.9h12.4v12.4h-12.4zM382.7 150h12.5v12.5h-12.5zM390.9 152.7h12.6v12.6h-12.6zM399.1 155.5h12.7v12.7h-12.7zM407.3 157.6h12.7v12.7h-12.7zM415.5 159.7h12.8v12.8h-12.8zM423.7 161.1h12.9v12.9h-12.9zM431.9 162.1h13v13h-13zM440.1 162.9h13.1v13.1h-13.1zM448.3 163.5h13.2v13.2h-13.2zM456.5 164.2h13.2v13.2h-13.2zM464.8 164.6h13.3v13.3h-13.3zM473 164.9h13.4v13.4h-13.4zM481.2 164.8h13.4v13.4h-13.4zM489.5 164.5h13.3v13.3h-13.3zM497.8 164h13.3v13.3h-13.3zM506 163.1h13.2v13.2h-13.2zM514.3 162h13.2v13.2h-13.2zM522.6 160.6h13.2v13.2h-13.2zM530.8 159h13.1v13.1h-13.1zM539.1 156.8h13.1v13.1h-13.1zM547.4 154.2h13v13h-13zM555.6 151.3h13v13h-13zM563.9 148.5h13v13h-13zM572.2 145.6h12.9v12.9h-12.9zM580.4 142.6h12.9v12.9h-12.9zM588.7 139.6h12.9v12.9h-12.9zM597 136.6h12.8v12.8h-12.8zM605.2 133.6h12.8v12.8h-12.8zM613.5 130.7h12.7v12.7h-12.7zM621.8 127.8h12.7v12.7h-12.7zM630 125.1h12.7v12.7h-12.7zM638.3 122.4h12.6v12.6h-12.6zM646.6 119.8h12.6v12.6h-12.6zM654.8 117h12.5v12.5h-12.5zM663.1 114.2h12.5v12.5h-12.5zM671.4 111.2h12.5v12.5h-12.5zM679.6 108.3h12.4v12.4h-12.4zM687.9 105.5h12.4v12.4h-12.4zM696.2 102.8h12.3v12.3h-12.3zM704.4 100.3h12.3v12.3h-12.3zM712.7 97.9h12.2v12.2h-12.2zM721 95.6h12.2v12.2h-12.2zM729.3 93.2h12.1v12.1h-12.1zM737.5 90.8h12.1v12.1h-12.1zM745.8 88.3h12.1v12.1h-12.1zM754.1 85.8h12v12h-12zM762.3 83.4h12v12h-12zM770.6 81.2h11.9v11.9h-11.9zM778.9 79h11.9v11.9h-11.9zM787.1 76.9h11.8v11.8h-11.8zM795.4 75.1h11.8v11.8h-11.8zM803.7 73.5h11.7v11.7h-11.7zM812 72h11.7v11.7h-11.7zM820.2 70.4h11.6v11.6h-11.6zM828.5 68.5h11.6v11.6h-11.6zM176.2 164.9h13.2v13.2h-13.2zM184.6 161.6h12.8v12.8h-12.8zM193 156.3h12.5v12.5h-12.5zM201.5 149.6h12.1v12.1h-12.1zM209.9 141.9h11.6v11.6h-11.6zM218.3 133.4h11.4v11.4h-11.4zM226.6 124.3h11.3v11.3h-11.3zM234.9 114.6h11.2v11.2h-11.2zM243.2 104.7h11v11h-11zM251.8 94.8h10.3v10.3h-10.3zM260.4 85.4h9.7v9.7h-9.7zM268.6 76h9.7v9.7h-9.7zM276.9 68.9h9.7v9.7h-9.7zM242.2 69.6h13v13h-13zM250.5 73.4h13v13h-13zM258.7 75.5h13v13h-13zM267 73.9h13v13h-13zM275.2 69.1h13v13h-13zM177.8 465.9h9.9v9.9h-9.9zM186.1 463.3h9.9v9.9h-9.9zM194.3 460.2h9.8v9.8h-9.8zM202.6 455.2h9.8v9.8h-9.8zM210.9 449.8h9.7v9.7h-9.7zM219.2 443h9.6v9.6h-9.6zM227.4 435.2h9.6v9.6h-9.6zM235.7 425.8h9.5v9.5h-9.5zM244 416.9h9.5v9.5h-9.5zM252.3 406.6h9.4v9.4h-9.4zM260.5 396.4h9.4v9.4h-9.4zM268.7 385.1h9.5v9.5h-9.5zM277 374h9.5v9.5h-9.5zM285.2 362.3h9.6v9.6h-9.6zM293.4 350.5h9.6v9.6h-9.6zM301.6 338.7h9.6v9.6h-9.6zM309.9 326.3h9.7v9.7h-9.7zM318.1 313.9h9.7v9.7h-9.7zM326.3 301.4h9.8v9.8h-9.8zM334.6 289.3h9.8v9.8h-9.8zM342.8 277.1h9.8v9.8h-9.8zM351 265h9.8v9.8h-9.8zM359.3 252.7h9.8v9.8h-9.8zM367.5 241h9.8v9.8h-9.8zM375.8 228.9h9.8v9.8h-9.8zM384 217.1h9.9v9.9h-9.9zM392.2 205.7h9.9v9.9h-9.9zM400.5 194.3h9.9v9.9h-9.9zM408.7 183h9.9v9.9h-9.9zM417 172.1h9.9v9.9h-9.9zM425.2 161.4h9.9v9.9h-9.9zM433.5 150.9h9.9v9.9h-9.9zM441.7 140.4h9.9v9.9h-9.9zM449.9 130.2h9.9v9.9h-9.9zM458.2 120.3h9.9v9.9h-9.9zM466.4 110.6h10v10h-10zM474.7 101.2h10v10h-10zM482.9 92.1h10v10h-10zM491.2 83.1h10v10h-10zM499.4 74.5h10v10h-10zM507.6 66.2h10v10h-10zM206.6 351.5h1.8v1.8h-1.8zM214 359.2h3.5v3.5h-3.5zM222 368.4h4v4h-4zM230 378.4h4.5v4.5h-4.5zM238 389.4h5v5h-5zM246.2 400.9h5v5h-5zM254.4 412.2h5.1v5.1h-5.1zM262.6 425.1h5.2v5.2h-5.2zM270.9 437.6h5.2v5.2h-5.2zM279.1 450.6h5.2v5.2h-5.2zM287.3 464h5.3v5.3h-5.3zM295.5 476.5h5.3v5.3h-5.3zM303.8 489.7h5.4v5.4h-5.4zM312 503.4h5.4v5.4h-5.4zM320.2 516.5h5.5v5.5h-5.5zM328.4 529.5h5.5v5.5h-5.5zM336.7 542h5.6v5.6h-5.6zM345.5 554.2h4.3v4.3h-4.3zM354.4 563.9h3v3h-3zM363.4 571.2h1.5v1.5h-1.5zM206.6 380.5h1.8v1.8h-1.8zM214 389.9h3.5v3.5h-3.5zM222 400.9h4v4h-4zM230 413.4h4.5v4.5h-4.5zM238 426.7h5v5h-5zM246.2 441.6h5v5h-5zM254.5 457h5v5h-5zM262.7 472.6h5.1v5.1h-5.1zM270.9 488.9h5.1v5.1h-5.1zM279.2 505.1h5.1v5.1h-5.1zM287.4 521.7h5.1v5.1h-5.1zM295.6 538.8h5.1v5.1h-5.1zM303.9 555.9h5.2v5.2h-5.2zM312.1 574.1h5.2v5.2h-5.2zM320.3 592.1h5.2v5.2h-5.2zM328.6 609.7h5.2v5.2h-5.2zM336.8 628.2h5.3v5.3h-5.3zM345.1 646.6h5.3v5.3h-5.3zM353.3 664.8h5.3v5.3h-5.3zM361.5 683h5.3v5.3h-5.3zM369.8 701.4h5.3v5.3h-5.3zM378 720.2h5.4v5.4h-5.4zM386.2 738.8h5.4v5.4h-5.4zM394.5 757.1h5.4v5.4h-5.4zM338.6 570.6h1.8v1.8h-1.8zM345.9 574.8h3.5v3.5h-3.5zM353.6 582.6h4.6v4.6h-4.6zM361.3 593h5.7v5.7h-5.7zM369 604.9h6.8v6.8h-6.8zM377.3 618.3h6.8v6.8h-6.8zM385.5 631.9h6.8v6.8h-6.8zM393.8 646h6.8v6.8h-6.8zM402 659.7h6.8v6.8h-6.8zM410.3 673.8h6.8v6.8h-6.8zM418.5 687.9h6.8v6.8h-6.8zM426.8 702.5h6.8v6.8h-6.8zM435 716.6h6.8v6.8h-6.8zM443.3 730.7h6.8v6.8h-6.8zM451.5 744.9h6.8v6.8h-6.8zM459.8 758.3h6.8v6.8h-6.8z"/>
<g fill="#56b4e9" fill-opacity="0.75" stroke="#56b4e9"><circle cx="174.5" cy="175.3" r="1" stroke-width="1.2"/><circle cx="182.7" cy="175" r="1" stroke-width="1.2"/><circle cx="191" cy="172.2" r="1" stroke-width="1.2"/><circle cx="199.2" cy="167.8" r="1" stroke-width="1.2"/><circle cx="207.5" cy="161.5" r="1" stroke-width="1.2"/><circle cx="215.7" cy="154" r="1" stroke-width="1.2"/><circle cx="224" cy="146.1" r="1" stroke-width="1.2"/><circle cx="232.2" cy="137.4" r="1" stroke-width="1.2"/><circle cx="240.5" cy="129.6" r="1" stroke-width="1.2"/><circle cx="248.7" cy="121.1" r="1" stroke-width="1.2"/><circle cx="257" cy="113.6" r="1" stroke-width="1.2"/><circle cx="265.2" cy="107.8" r="1" stroke-width="1.2"/><circle cx="273.5" cy="105.9" r="1" stroke-width="1.2"/><circle cx="281.7" cy="106.6" r="1" stroke-width="1.2"/><circle cx="290" cy="110.1" r="1" stroke-width="1.2"/><circle cx="298.2" cy="113.8" r="1" stroke-width="1.2"/><circle cx="306.5" cy="117.9" r="1" stroke-width="1.2"/><circle cx="314.7" cy="122.2" r="1" stroke-width="1.2"/><circle cx="323" cy="126.4" r="1" stroke-width="1.2"/><circle cx="331.2" cy="130.5" r="1" stroke-width="1.2"/><circle cx="339.5" cy="134.4" r="1" stroke-width="1.2"/><circle cx="347.7" cy="138.3" r="1" stroke-width="1.2"/><circle cx="355.9" cy="142.2" r="1" stroke-width="1.2"/><circle cx="364.2" cy="146" r="1" stroke-width="1.2"/><circle cx="372.4" cy="149.6" r="1" stroke-width="1.2"/><circle cx="380.7" cy="153.1" r="1" stroke-width="1.2"/><circle cx="388.9" cy="156.2" r="1" stroke-width="1.2"/><circle cx="397.2" cy="159" r="1" stroke-width="1.2"/><circle cx="405.4" cy="161.8" r="1" stroke-width="1.2"/><circle cx="413.7" cy="164" r="1" stroke-width="1.2"/><circle cx="421.9" cy="166.1" r="1" stroke-width="1.2"/><circle cx="430.2" cy="167.6" r="1" stroke-width="1.2"/><circle cx="438.4" cy="168.6" r="1" stroke-width="1.2"/><circle cx="446.7" cy="169.4" r="1" stroke-width="1.2"/><circle cx="454.9" cy="170.1" r="1" stroke-width="1.2"/><circle cx="463.2" cy="170.8" r="1" stroke-width="1.2"/><circle cx="471.4" cy="171.3" r="1" stroke-width="1.2"/><circle cx="479.7" cy="171.6" r="1" stroke-width="1.2"/><circle cx="487.9" cy="171.5" r="1" stroke-width="1.2"/><circle cx="496.2" cy="171.2" r="1" stroke-width="1.2"/><circle cx="504.4" cy="170.6" r="1" stroke-width="1.2"/><circle cx="512.6" cy="169.7" r="1" stroke-width="1.2"/><circle cx="520.9" cy="168.6" r="1" stroke-width="1.2"/><circle cx="529.1" cy="167.2" r="1" stroke-width="1.2"/><circle cx="537.4" cy="165.6" r="1" stroke-width="1.2"/><circle cx="545.6" cy="163.4" r="1" stroke-width="1.2"/><circle cx="553.9" cy="160.7" r="1" stroke-width="1.2"/><circle cx="562.1" cy="157.8" r="1" stroke-width="1.2"/><circle cx="570.4" cy="155" r="1" stroke-width="1.2"/><circle cx="578.6" cy="152.1" r="1" stroke-width="1.2"/><circle cx="586.9" cy="149.1" r="1" stroke-width="1.2"/><circle cx="595.1" cy="146" r="1" stroke-width="1.2"/><circle cx="603.4" cy="143" r="1" stroke-width="1.2"/><circle cx="611.6" cy="140" r="1" stroke-width="1.2"/><circle cx="619.9" cy="137" r="1" stroke-width="1.2"/><circle cx="628.1" cy="134.1" r="1" stroke-width="1.2"/><circle cx="636.4" cy="131.4" r="1" stroke-width="1.2"/><circle cx="644.6" cy="128.7" r="1" stroke-width="1.2"/><circle cx="652.9" cy="126.1" r="1" stroke-width="1.2"/><circle cx="661.1" cy="123.3" r="1" stroke-width="1.2"/><circle cx="669.4" cy="120.4" r="1" stroke-width="1.2"/><circle cx="677.6" cy="117.5" r="1" stroke-width="1.2"/><circle cx="685.8" cy="114.5" r="1" stroke-width="1.2"/><circle cx="694.1" cy="111.7" r="1" stroke-width="1.2"/><circle cx="702.3" cy="109" r="1" stroke-width="1.2"/><circle cx="710.6" cy="106.5" r="1" stroke-width="1.2"/><circle cx="718.8" cy="104.1" r="1" stroke-width="1.2"/><circle cx="727.1" cy="101.7" r="1" stroke-width="1.2"/><circle cx="735.3" cy="99.3" r="1" stroke-width="1.2"/><circle cx="743.6" cy="96.8" r="1" stroke-width="1.2"/><circle cx="751.8" cy="94.3" r="1" stroke-width="1.2"/><circle cx="760.1" cy="91.8" r="1" stroke-width="1.2"/><circle cx="768.3" cy="89.4" r="1" stroke-width="1.2"/><circle cx="776.6" cy="87.1" r="1" stroke-width="1.2"/><circle cx="784.8" cy="84.9" r="1" stroke-width="1.2"/><circle cx="793.1" cy="82.9" r="1" stroke-width="1.2"/><circle cx="801.3" cy="80.9" r="1" stroke-width="1.2"/><circle cx="809.6" cy="79.3" r="1" stroke-width="1.2"/><circle cx="817.8" cy="77.8" r="1" stroke-width="1.2"/><circle cx="826.1" cy="76.2" r="1" stroke-width="1.2"/><circle cx="834.3" cy="74.3" r="1" stroke-width="1.2"/><circle cx="174.5" cy="172.3" r="0.8" stroke-width="0.9"/><circle cx="182.7" cy="171.5" r="0.8" stroke-width="0.9"/><circle cx="191" cy="168" r="0.8" stroke-width="0.9"/><circle cx="199.2" cy="162.6" r="0.8" stroke-width="0.9"/><circle cx="207.5" cy="155.6" r="0.8" stroke-width="0.9"/><circle cx="215.7" cy="147.7" r="0.8" stroke-width="0.9"/><circle cx="224" cy="139.1" r="0.8" stroke-width="0.9"/><circle cx="232.2" cy="130" r="0.8" stroke-width="0.9"/><circle cx="240.5" cy="120.2" r="0.8" stroke-width="0.9"/><circle cx="248.7" cy="110.2" r="0.8" stroke-width="0.9"/><circle cx="257" cy="100" r="0.8" stroke-width="0.9"/><circle cx="265.2" cy="90.2" r="0.8" stroke-width="0.9"/><circle cx="273.5" cy="80.8" r="0.8" stroke-width="0.9"/><circle cx="281.7" cy="73.7" r="0.8" stroke-width="0.9"/><circle cx="248.7" cy="76.1" r="1" stroke-width="1.1"/><circle cx="257" cy="79.9" r="1" stroke-width="1.1"/><circle cx="265.2" cy="82" r="1" stroke-width="1.1"/><circle cx="273.5" cy="80.4" r="1" stroke-width="1.1"/><circle cx="281.7" cy="75.6" r="1" stroke-width="1.1"/><circle cx="174.5" cy="471.2" r="1.5" stroke-width="1.5"/><circle cx="182.7" cy="470.9" r="1.4" stroke-width="1.5"/><circle cx="191" cy="468.2" r="1.4" stroke-width="1.5"/><circle cx="199.2" cy="465.1" r="1.4" stroke-width="1.5"/><circle cx="207.5" cy="460.1" r="1.4" stroke-width="1.5"/><circle cx="215.7" cy="454.6" r="1.4" stroke-width="1.5"/><circle cx="224" cy="447.8" r="1.4" stroke-width="1.5"/><circle cx="232.2" cy="440" r="1.3" stroke-width="1.5"/><circle cx="240.5" cy="430.6" r="1.3" stroke-width="1.5"/><circle cx="248.7" cy="421.6" r="1.3" stroke-width="1.5"/><circle cx="257" cy="411.3" r="1.3" stroke-width="1.4"/><circle cx="265.2" cy="401.1" r="1.3" stroke-width="1.4"/><circle cx="273.5" cy="389.8" r="1.3" stroke-width="1.4"/><circle cx="281.7" cy="378.8" r="1.2" stroke-width="1.4"/><circle cx="290" cy="367.1" r="1.2" stroke-width="1.4"/><circle cx="298.2" cy="355.3" r="1.2" stroke-width="1.4"/><circle cx="306.5" cy="343.5" r="1.2" stroke-width="1.4"/><circle cx="314.7" cy="331.1" r="1.2" stroke-width="1.4"/><circle cx="323" cy="318.8" r="1.2" stroke-width="1.4"/><circle cx="331.2" cy="306.3" r="1.2" stroke-width="1.3"/><circle cx="339.5" cy="294.2" r="1.2" stroke-width="1.3"/><circle cx="347.7" cy="282" r="1.2" stroke-width="1.3"/><circle cx="355.9" cy="269.9" r="1.2" stroke-width="1.3"/><circle cx="364.2" cy="257.6" r="1.2" stroke-width="1.3"/><circle cx="372.4" cy="245.9" r="1.2" stroke-width="1.3"/><circle cx="380.7" cy="233.8" r="1.2" stroke-width="1.3"/><circle cx="388.9" cy="222" r="1.2" stroke-width="1.3"/><circle cx="397.2" cy="210.6" r="1.2" stroke-width="1.3"/><circle cx="405.4" cy="199.2" r="1.2" stroke-width="1.3"/><circle cx="413.7" cy="187.9" r="1.1" stroke-width="1.3"/><circle cx="421.9" cy="177" r="1.1" stroke-width="1.3"/><circle cx="430.2" cy="166.4" r="1.1" stroke-width="1.3"/><circle cx="438.4" cy="155.9" r="1.1" stroke-width="1.3"/><circle cx="446.7" cy="145.4" r="1.1" stroke-width="1.3"/><circle cx="454.9" cy="135.2" r="1.1" stroke-width="1.3"/><circle cx="463.2" cy="125.3" r="1.1" stroke-width="1.3"/><circle cx="471.4" cy="115.6" r="1.1" stroke-width="1.3"/><circle cx="479.7" cy="106.2" r="1.1" stroke-width="1.2"/><circle cx="487.9" cy="97.1" r="1.1" stroke-width="1.2"/><circle cx="496.2" cy="88.1" r="1.1" stroke-width="1.2"/><circle cx="504.4" cy="79.5" r="1.1" stroke-width="1.2"/><circle cx="512.6" cy="71.2" r="1.1" stroke-width="1.2"/></g>
<path fill="#e69f00" d="M174.5 174.4l0.8 1.3h-1.6zM182.7 174.1l0.8 1.3h-1.6zM191 171.3l0.8 1.3h-1.6zM199.2 166.9l0.8 1.3h-1.6zM207.5 160.6l0.8 1.3h-1.6zM215.7 153.1l0.8 1.3h-1.6zM224 145.2l0.8 1.3h-1.6zM232.2 136.5l0.8 1.3h-1.6zM240.5 128.7l0.8 1.3h-1.6zM248.7 120.2l0.8 1.3h-1.6zM257 112.7l0.8 1.3h-1.6zM265.2 106.9l0.8 1.3h-1.6zM273.5 105l0.8 1.3h-1.6zM281.7 105.7l0.8 1.3h-1.6zM290 109.2l0.8 1.3h-1.6zM298.2 112.9l0.8 1.3h-1.6zM306.5 117l0.8 1.3h-1.6zM314.7 121.3l0.8 1.3h-1.6zM323 125.5l0.8 1.3h-1.6zM331.2 129.6l0.8 1.3h-1.6zM339.5 133.5l0.8 1.3h-1.6zM347.7 137.4l0.8 1.3h-1.6zM355.9 141.3l0.8 1.3h-1.6zM364.2 145.1l0.8 1.3h-1.6zM372.4 148.7l0.8 1.3h-1.6zM380.7 152.2l0.8 1.3h-1.6zM388.9 155.3l0.8 1.3h-1.6zM397.2 158.1l0.8 1.3h-1.6zM405.4 160.9l0.8 1.3h-1.6zM413.7 163.1l0.8 1.3h-1.6zM421.9 165.2l0.8 1.3h-1.6zM430.2 166.7l0.8 1.3h-1.6zM438.4 167.7l0.8 1.3h-1.6zM446.7 168.5l0.8 1.3h-1.6zM454.9 169.2l0.8 1.3h-1.6zM463.2 169.9l0.8 1.3h-1.6zM471.4 170.4l0.8 1.3h-1.6zM479.7 170.7l0.8 1.3h-1.6zM487.9 170.6l0.8 1.3h-1.6zM496.2 170.3l0.8 1.3h-1.6zM504.4 169.7l0.8 1.3h-1.6zM512.6 168.8l0.8 1.3h-1.6zM520.9 167.7l0.8 1.3h-1.6zM529.1 166.3l0.8 1.3h-1.6zM537.4 164.7l0.8 1.3h-1.6zM545.6 162.5l0.8 1.3h-1.6zM553.9 159.8l0.8 1.3h-1.6zM562.1 156.9l0.8 1.3h-1.6zM570.4 154.1l0.8 1.3h-1.6zM578.6 151.2l0.8 1.3h-1.6zM586.9 148.2l0.8 1.3h-1.6zM595.1 145.1l0.8 1.3h-1.6zM603.4 142.1l0.8 1.3h-1.6zM611.6 139.1l0.8 1.3h-1.6zM619.9 136.1l0.8 1.3h-1.6zM628.1 133.2l0.8 1.3h-1.6zM636.4 130.5l0.8 1.3h-1.6zM644.6 127.8l0.8 1.3h-1.6zM652.9 125.2l0.8 1.3h-1.6zM661.1 122.4l0.8 1.3h-1.6zM669.4 119.5l0.8 1.3h-1.6zM677.6 116.6l0.8 1.3h-1.6zM685.8 113.6l0.8 1.3h-1.6zM694.1 110.8l0.8 1.3h-1.6zM702.3 108.1l0.8 1.3h-1.6zM710.6 105.6l0.8 1.3h-1.6zM718.8 103.2l0.8 1.3h-1.6zM727.1 100.8l0.8 1.3h-1.6zM735.3 98.4l0.8 1.3h-1.6zM743.6 95.9l0.8 1.3h-1.6zM751.8 93.4l0.8 1.3h-1.6zM760.1 90.9l0.8 1.3h-1.6zM768.3 88.5l0.8 1.3h-1.6zM776.6 86.2l0.8 1.3h-1.6zM784.8 84l0.8 1.3h-1.6zM793.1 82l0.8 1.3h-1.6zM801.3 80.1l0.8 1.3h-1.6zM809.6 78.4l0.8 1.3h-1.6zM817.8 76.9l0.8 1.3h-1.6zM826.1 75.3l0.8 1.3h-1.6zM834.3 73.4l0.8 1.3h-1.6zM174.5 171.2l1 1.6h-2zM182.7 170.4l1 1.6h-2zM191 166.9l1 1.6h-2zM199.2 161.5l1 1.6h-2zM207.5 154.5l1 1.6h-2zM215.7 146.6l1 1.6h-2zM224 138l1 1.6h-2zM232.2 128.9l1 1.6h-2zM240.5 119.1l1 1.6h-2zM248.7 109.1l1 1.6h-2zM257 98.9l1 1.6h-2zM265.2 89.1l1 1.6h-2zM273.5 79.7l1 1.6h-2zM281.7 72.6l1 1.6h-2zM174.5 470.3l0.8 1.3h-1.6zM182.7 470l0.8 1.3h-1.6zM191 467.3l0.8 1.3h-1.6zM199.2 464.2l0.8 1.3h-1.6zM207.5 459.2l0.8 1.3h-1.6zM215.7 453.7l0.8 1.3h-1.6zM224 446.9l0.8 1.3h-1.6zM232.2 439.1l0.8 1.3h-1.6zM240.5 429.7l0.8 1.3h-1.6zM248.7 420.7l0.8 1.3h-1.6zM257 410.4l0.8 1.3h-1.6zM265.2 400.2l0.8 1.3h-1.7zM273.5 388.9l0.8 1.3h-1.7zM281.7 377.9l0.8 1.3h-1.7zM290 366.2l0.8 1.4h-1.7zM298.2 354.4l0.8 1.4h-1.7zM306.5 342.6l0.8 1.4h-1.7zM314.7 330.2l0.8 1.4h-1.7zM323 317.9l0.8 1.4h-1.7zM331.2 305.4l0.8 1.4h-1.7zM339.5 293.2l0.8 1.4h-1.7zM347.7 281l0.9 1.4h-1.7zM355.9 268.9l0.9 1.4h-1.7zM364.2 256.6l0.9 1.4h-1.7zM372.4 244.9l0.9 1.4h-1.7zM380.7 232.8l0.9 1.4h-1.7zM388.9 221l0.9 1.4h-1.7zM397.2 209.6l0.9 1.4h-1.7zM405.4 198.2l0.9 1.4h-1.7zM413.7 186.9l0.9 1.4h-1.7zM421.9 176l0.9 1.4h-1.7zM430.2 165.4l0.9 1.4h-1.8zM438.4 154.9l0.9 1.4h-1.8zM446.7 144.4l0.9 1.4h-1.8zM454.9 134.2l0.9 1.4h-1.8zM463.2 124.3l0.9 1.4h-1.8zM471.4 114.6l0.9 1.4h-1.8zM479.7 105.2l0.9 1.4h-1.8zM487.9 96.1l0.9 1.4h-1.8zM496.2 87.1l0.9 1.5h-1.8zM504.4 78.5l0.9 1.5h-1.8zM512.6 70.2l0.9 1.5h-1.8zM174.5 332.7l3.6 5.8h-7.2zM182.7 333l3.6 5.8h-7.2zM191 336.1l3.6 5.8h-7.2zM199.2 341.3l3.6 5.8h-7.2zM207.5 348.4l3.6 5.8h-7.2zM215.7 357l3.6 5.8h-7.2zM224 366.4l3.6 5.8h-7.2zM232.2 376.6l3.6 5.8h-7.2zM240.5 387.9l3.6 5.8h-7.2zM248.7 399.4l3.6 5.8h-7.2zM257 410.8l3.6 5.8h-7.2zM265.2 423.7l3.6 5.8h-7.2zM273.5 436.2l3.6 5.8h-7.1zM281.7 449.2l3.6 5.8h-7.1zM290 462.6l3.6 5.8h-7.1zM298.2 475.2l3.6 5.8h-7.1zM306.5 488.4l3.6 5.8h-7.1zM314.7 502.1l3.6 5.8h-7.1zM323 515.2l3.6 5.8h-7.1zM331.2 528.3l3.6 5.8h-7.1zM339.5 540.8l3.6 5.8h-7.1zM347.7 552.4l3.6 5.8h-7.1zM355.9 561.4l3.6 5.8h-7.1zM364.2 568l3.5 5.7h-7.1zM372.4 573.5l3.5 5.7h-7.1zM380.7 579.4l3.5 5.7h-7.1zM388.9 585.7l3.5 5.7h-7.1zM397.2 592.3l3.5 5.7h-7.1zM405.4 598.6l3.5 5.7h-7.1zM413.7 605.2l3.5 5.7h-7.1zM421.9 612.3l3.5 5.7h-7.1zM430.2 619.8l3.5 5.7h-7.1zM438.4 627.6l3.5 5.7h-7.1zM446.7 636.6l3.5 5.7h-7.1zM454.9 645.3l3.5 5.7h-7zM463.2 654.3l3.5 5.7h-7zM471.4 664.2l3.5 5.7h-7zM479.7 673.6l3.5 5.7h-7zM487.9 683.7l3.5 5.7h-7zM496.2 693.6l3.5 5.7h-7zM504.4 704.2l3.5 5.7h-7zM512.6 714.7l3.5 5.7h-7zM520.9 725.8l3.5 5.7h-7zM529.1 737.1l3.5 5.7h-7zM537.4 748.4l3.5 5.7h-7zM174.5 358.1l3.6 5.8h-7.2zM182.7 358.6l3.6 5.8h-7.2zM191 362.5l3.6 5.8h-7.2zM199.2 368.8l3.6 5.8h-7.1zM207.5 377.4l3.6 5.8h-7.1zM215.7 387.6l3.5 5.7h-7.1zM224 398.9l3.5 5.7h-7.1zM232.2 411.7l3.5 5.7h-7zM240.5 425.3l3.5 5.7h-7zM248.7 440.2l3.5 5.7h-7zM257 455.6l3.5 5.7h-7zM265.2 471.2l3.5 5.6h-7zM273.5 487.5l3.5 5.6h-6.9zM281.7 503.8l3.5 5.6h-6.9zM290 520.4l3.5 5.6h-6.9zM298.2 537.5l3.4 5.6h-6.9zM306.5 554.7l3.4 5.6h-6.9zM314.7 572.9l3.4 5.5h-6.8zM323 590.9l3.4 5.5h-6.8zM331.2 608.5l3.4 5.5h-6.8zM339.5 627l3.4 5.5h-6.8zM347.7 645.4l3.4 5.5h-6.8zM355.9 663.6l3.4 5.5h-6.7zM364.2 681.9l3.4 5.4h-6.7zM372.4 700.4l3.3 5.4h-6.7zM380.7 719.2l3.3 5.4h-6.7zM388.9 737.8l3.3 5.4h-6.6zM397.2 756.1l3.3 5.4h-6.6zM174.5 561.2l4.5 7.3h-9zM182.7 560.1l4.5 7.3h-9zM191 559.7l4.5 7.3h-9zM199.2 559.1l4.5 7.3h-9zM207.5 558.6l4.5 7.3h-9zM215.7 558l4.5 7.3h-9zM224 557.4l4.5 7.3h-9zM232.2 556.8l4.5 7.3h-9zM240.5 556.2l4.5 7.3h-9zM248.7 555.6l4.5 7.3h-9zM257 555l4.5 7.3h-9zM265.2 554.6l4.5 7.3h-9zM273.5 554.2l4.5 7.3h-9zM281.7 554.2l4.5 7.3h-9zM290 554.4l4.5 7.3h-9zM298.2 555.2l4.5 7.3h-9zM306.5 556.2l4.5 7.3h-9zM314.7 558.1l4.3 7h-8.7zM323 560.2l4.2 6.8h-8.4zM331.2 563.7l4 6.6h-8.1zM339.5 567.1l3.9 6.3h-7.8zM347.7 572.3l3.8 6.1h-7.5zM355.9 580.9l3.6 5.8h-7.2zM364.2 591.8l3.6 5.8h-7.2zM372.4 604.3l3.6 5.8h-7.2zM380.7 617.7l3.6 5.8h-7.2zM388.9 631.3l3.6 5.8h-7.1zM397.2 645.4l3.6 5.8h-7.1zM405.4 659.1l3.6 5.8h-7.1zM413.7 673.2l3.5 5.8h-7.1zM421.9 687.3l3.5 5.7h-7.1zM430.2 701.9l3.5 5.7h-7.1zM438.4 716l3.5 5.7h-7.1zM446.7 730.2l3.5 5.7h-7zM454.9 744.4l3.5 5.7h-7zM463.2 757.8l3.5 5.7h-7z"/>
<path d="M174.6 415.9h9.5M1007.5 415.9h-9.5" stroke="#000" stroke-width="2" fill="none"/>
<rect x="174.6" y="69.0" width="832.9" height="693.7" fill="none" stroke="#000" stroke-width="3.2"/>
<line x1="184.6" y1="1256.7" x2="997.5" y2="1256.7" stroke="#333" stroke-width="1.7" stroke-dasharray="1.9 2.7"/>
<g clip-path="url(#cb)" fill="none" stroke="#9400d3" stroke-width="1.9" stroke-linejoin="round"><polyline points="174.5,1039.6 182.7,1039.2 191,1037.5 199.2,1035 207.5,1031.4 215.7,1027.1 224,1022.2 232.2,1016.5 240.5,1010.8 248.7,1004.9 257,998.8 265.2,992.3 273.5,985.2 281.7,977.3 290,969.2 298.2,960.6 306.5,952 314.7,942.8 323,933.7 331.2,925.1 339.5,917.3 347.7,908.5"/><polyline points="174.5,1042 182.7,1041.3 191,1039.7 199.2,1036.6 207.5,1033 215.7,1028.6 224,1023.5 232.2,1017.9 240.5,1012.3 248.7,1006.5 257,1000.4 265.2,994 273.5,987.4 281.7,980.9 290,974.7 298.2,968.6 306.5,962.7 314.7,957.6 323,954.3 331.2,952.4 339.5,951.4 347.7,951 355.9,951.4 364.2,952.8 372.4,954.9 380.7,957.2 388.9,960 397.2,963.2 405.4,966.2 413.7,969.6 421.9,973 430.2,976.3 438.4,979.3 446.7,982.2 454.9,984.7 463.2,987.6 471.4,991 479.7,994.3 487.9,997.1 496.2,999.7 504.4,1002.5 512.6,1005.2 520.9,1007.6 529.1,1009.7 537.4,1011.7 545.6,1013.4 553.9,1015 562.1,1016.5 570.4,1017.7 578.6,1018.7 586.9,1019.5 595.1,1020.1 603.4,1020.6 611.6,1020.9 619.9,1021 628.1,1020.8 636.4,1020.6 644.6,1020 652.9,1019 661.1,1017.9 669.4,1016.5 677.6,1014.9 685.8,1013.4 694.1,1011.7 702.3,1009.9 710.6,1007.8 718.8,1005.7 727.1,1003.7 735.3,1001.6 743.6,999.3 751.8,996.8 760.1,994.3 768.3,991.8 776.6,989.3 784.8,986.7 793.1,984 801.3,981.3 809.6,978.6 817.8,975.9 826.1,973.3 834.3,970.6 842.5,968 850.8,965.4 859,962.8 867.3,960.2 875.5,957.5 883.8,954.9 892,952.2 900.3,949.4 908.5,946.8 916.8,944.2 925,941.8 933.3,939.6 941.5,937.4 949.8,935.2 958,933 966.3,930.7 974.5,928.7 982.8,927 991,925.5 999.2,924.3 1007.5,923.3"/><polyline points="174.5,1141.8 182.7,1141.2 191,1140.6 199.2,1139.2 207.5,1137.1 215.7,1134.4 224,1131.2 232.2,1127.6 240.5,1123.8 248.7,1119.4 257,1114.4 265.2,1108.8 273.5,1103.3 281.7,1097.4 290,1091.1 298.2,1084.6 306.5,1078 314.7,1071.6 323,1065 331.2,1058.1 339.5,1051.3 347.7,1044.7 355.9,1038 364.2,1031.4 372.4,1024.2 380.7,1017.6 388.9,1011.5 397.2,1005 405.4,998.8 413.7,992.9 421.9,986.5 430.2,980.8 438.4,975.2 446.7,970 454.9,965 463.2,959.7 471.4,954.5 479.7,949.8 487.9,945.3 496.2,941.3 504.4,937.5 512.6,933.8 520.9,930.2 529.1,926.8 537.4,923.5 545.6,920.8 553.9,918.4 562.1,916.3 570.4,914.4 578.6,912.8 586.9,911.3 595.1,909.3"/><polyline points="919.2,909.9 925,910.8 933.3,911.9 941.5,912.9 949.8,914.1 958,915.2 966.3,916.4 974.5,917.6 982.8,918.9 991,920.2 999.2,921.6 1007.5,923"/><polyline points="174.5,1378.8 182.7,1378.8 191,1380.9 199.2,1383 207.5,1386.4 215.7,1390.5 224,1395.6 232.2,1401.5 240.5,1408.4 248.7,1415.6 257,1423.7 265.2,1432.4 273.5,1441 281.7,1450.6 290,1460.6 298.2,1470.5 306.5,1480.6 314.7,1491.1 323,1502.2 331.2,1513.2 339.5,1524.2 347.7,1535.6 355.9,1547 364.2,1558.4 372.4,1570.1 380.7,1581.6 388.9,1592.6 397.2,1603.6 405.4,1615"/><polyline points="174.5,1378.8 182.7,1379.3 191,1381.9 199.2,1386 207.5,1391.9 215.7,1398.7 224,1407 232.2,1416.6 240.5,1427.2 248.7,1438.8 257,1451.2 265.2,1463.9 273.5,1477.8 281.7,1492.2 290,1507.3 298.2,1522.8 306.5,1538.5 314.7,1554.7 323,1571 331.2,1587.8 339.5,1604.4 347.7,1621"/></g>
<path clip-path="url(#cbx)" fill="none" stroke="#0b9e73" stroke-width="1.8" d="M176.8 1033.2h12v12h-12zM185 1031.5h11.9v11.9h-11.9zM193.3 1029h11.9v11.9h-11.9zM201.5 1025.5h11.9v11.9h-11.9zM209.8 1021.2h11.9v11.9h-11.9zM218.1 1016.3h11.8v11.8h-11.8zM226.3 1010.6h11.8v11.8h-11.8zM234.6 1004.9h11.8v11.8h-11.8zM242.8 999h11.8v11.8h-11.8zM251.1 992.9h11.8v11.8h-11.8zM259.4 986.4h11.7v11.7h-11.7zM267.6 979.4h11.7v11.7h-11.7zM275.9 971.5h11.7v11.7h-11.7zM284.1 963.4h11.7v11.7h-11.7zM292.4 954.8h11.6v11.6h-11.6zM300.7 946.2h11.6v11.6h-11.6zM308.9 937h11.6v11.6h-11.6zM317.2 927.9h11.6v11.6h-11.6zM325.4 919.3h11.5v11.5h-11.5zM333.7 911.5h11.5v11.5h-11.5zM177 1035.5h11.6v11.6h-11.6zM185.2 1033.9h11.6v11.6h-11.6zM193.4 1030.7h11.7v11.7h-11.7zM201.6 1027.1h11.7v11.7h-11.7zM209.9 1022.7h11.8v11.8h-11.8zM218.1 1017.6h11.8v11.8h-11.8zM226.3 1012h11.8v11.8h-11.8zM234.5 1006.3h11.9v11.9h-11.9zM242.8 1000.5h11.9v11.9h-11.9zM251 994.4h12v12h-12zM259.2 988h12.1v12.1h-12.1zM267.4 981.4h12.1v12.1h-12.1zM275.6 974.8h12.2v12.2h-12.2zM283.9 968.6h12.2v12.2h-12.2zM292.1 962.5h12.2v12.2h-12.2zM300.3 956.5h12.3v12.3h-12.3zM308.5 951.5h12.3v12.3h-12.3zM316.8 948.1h12.4v12.4h-12.4zM325 946.2h12.4v12.4h-12.4zM333.2 945.1h12.5v12.5h-12.5zM341.4 944.7h12.5v12.5h-12.5zM349.7 945.1h12.6v12.6h-12.6zM357.9 946.5h12.6v12.6h-12.6zM366.1 948.6h12.6v12.6h-12.6zM374.3 950.8h12.7v12.7h-12.7zM382.6 953.6h12.7v12.7h-12.7zM390.8 956.8h12.8v12.8h-12.8zM399 959.8h12.8v12.8h-12.8zM407.3 963.2h12.8v12.8h-12.8zM415.5 966.6h12.9v12.9h-12.9zM423.7 969.8h12.9v12.9h-12.9zM431.9 972.8h12.9v12.9h-12.9zM440.2 975.7h13v13h-13zM448.4 978.2h13v13h-13zM456.6 981.1h13.1v13.1h-13.1zM464.9 984.5h13.1v13.1h-13.1zM473.1 987.7h13.1v13.1h-13.1zM481.3 990.5h13.2v13.2h-13.2zM489.5 993.1h13.2v13.2h-13.2zM497.8 995.8h13.2v13.2h-13.2zM506 998.5h13.3v13.3h-13.3zM514.2 1000.9h13.3v13.3h-13.3zM522.5 1003.1h13.4v13.4h-13.4zM530.7 1005h13.4v13.4h-13.4zM538.9 1006.7h13.4v13.4h-13.4zM547.2 1008.3h13.5v13.5h-13.5zM555.4 1009.7h13.5v13.5h-13.5zM563.6 1011h13.5v13.5h-13.5zM571.8 1011.9h13.6v13.6h-13.6zM580.1 1012.7h13.6v13.6h-13.6zM588.3 1013.3h13.7v13.7h-13.7zM596.5 1013.7h13.7v13.7h-13.7zM604.8 1014.1h13.7v13.7h-13.7zM613 1014.1h13.8v13.8h-13.8zM621.2 1013.9h13.8v13.8h-13.8zM629.5 1013.7h13.8v13.8h-13.8zM637.7 1013.1h13.7v13.7h-13.7zM646 1012.2h13.7v13.7h-13.7zM654.3 1011.1h13.6v13.6h-13.6zM662.5 1009.7h13.6v13.6h-13.6zM670.8 1008.1h13.6v13.6h-13.6zM679.1 1006.6h13.5v13.5h-13.5zM687.3 1005h13.5v13.5h-13.5zM695.6 1003.2h13.4v13.4h-13.4zM703.9 1001.1h13.4v13.4h-13.4zM712.2 999h13.4v13.4h-13.4zM720.4 997h13.3v13.3h-13.3zM728.7 995h13.3v13.3h-13.3zM737 992.7h13.3v13.3h-13.3zM745.2 990.2h13.2v13.2h-13.2zM753.5 987.7h13.2v13.2h-13.2zM761.8 985.2h13.1v13.1h-13.1zM770 982.8h13.1v13.1h-13.1zM778.3 980.2h13.1v13.1h-13.1zM786.6 977.5h13v13h-13zM794.8 974.8h13v13h-13zM803.1 972.1h12.9v12.9h-12.9zM811.4 969.5h12.9v12.9h-12.9zM819.6 966.8h12.9v12.9h-12.9zM827.9 964.2h12.8v12.8h-12.8zM836.2 961.6h12.8v12.8h-12.8zM844.4 959h12.7v12.7h-12.7zM852.7 956.4h12.7v12.7h-12.7zM861 953.8h12.7v12.7h-12.7zM869.2 951.2h12.6v12.6h-12.6zM877.5 948.6h12.6v12.6h-12.6zM885.8 945.9h12.5v12.5h-12.5zM894 943.2h12.5v12.5h-12.5zM902.3 940.5h12.5v12.5h-12.5zM910.6 938h12.4v12.4h-12.4zM918.8 935.6h12.4v12.4h-12.4zM927.1 933.4h12.4v12.4h-12.4zM935.4 931.2h12.3v12.3h-12.3zM943.6 929.1h12.3v12.3h-12.3zM951.9 926.9h12.2v12.2h-12.2zM960.2 924.6h12.2v12.2h-12.2zM968.4 922.6h12.2v12.2h-12.2zM976.7 920.9h12.1v12.1h-12.1zM985 919.5h12.1v12.1h-12.1zM993.2 918.2h12v12h-12zM1001.5 917.3h12v12h-12zM178.2 1136.7h9.1v9.1h-9.1zM186.4 1136h9.1v9.1h-9.1zM194.7 1134.6h9.2v9.2h-9.2zM202.9 1132.5h9.2v9.2h-9.2zM211.1 1129.8h9.2v9.2h-9.2zM219.3 1126.5h9.3v9.3h-9.3zM227.6 1122.9h9.3v9.3h-9.3zM235.8 1119.1h9.4v9.4h-9.4zM244 1114.7h9.4v9.4h-9.4zM252.2 1109.7h9.5v9.5h-9.5zM260.4 1104h9.6v9.6h-9.6zM268.7 1098.5h9.6v9.6h-9.6zM276.9 1092.6h9.7v9.7h-9.7zM285.1 1086.2h9.7v9.7h-9.7zM293.3 1079.7h9.8v9.8h-9.8zM301.6 1073.1h9.8v9.8h-9.8zM309.8 1066.7h9.8v9.8h-9.8zM318 1060h9.9v9.9h-9.9zM326.2 1053.1h9.9v9.9h-9.9zM334.5 1046.3h10v10h-10zM342.7 1039.7h10.1v10.1h-10.1zM350.9 1033h10.1v10.1h-10.1zM359.1 1026.3h10.2v10.2h-10.2zM367.3 1019.1h10.2v10.2h-10.2zM375.6 1012.5h10.2v10.2h-10.2zM383.8 1006.4h10.3v10.3h-10.3zM392 999.8h10.3v10.3h-10.3zM400.2 993.6h10.4v10.4h-10.4zM408.5 987.7h10.4v10.4h-10.4zM416.7 981.2h10.5v10.5h-10.5zM424.9 975.5h10.6v10.6h-10.6zM433 969.8h10.8v10.8h-10.8zM441.2 964.6h10.9v10.9h-10.9zM449.4 959.5h11v11h-11zM457.6 954.1h11.1v11.1h-11.1zM465.8 948.9h11.3v11.3h-11.3zM474 944.1h11.4v11.4h-11.4zM482.1 939.5h11.5v11.5h-11.5zM490.3 935.5h11.6v11.6h-11.6zM498.5 931.6h11.8v11.8h-11.8zM506.7 927.9h11.9v11.9h-11.9zM514.9 924.2h12v12h-12zM523.1 920.7h12.1v12.1h-12.1zM531.3 917.4h12.3v12.3h-12.3zM539.4 914.6h12.4v12.4h-12.4zM547.6 912.1h12.5v12.5h-12.5zM555.8 910h12.6v12.6h-12.6zM564 908h12.8v12.8h-12.8zM572.2 906.3h12.9v12.9h-12.9zM935.5 906.9h12v12h-12zM943.8 908.1h12v12h-12zM952 909.2h12v12h-12zM960.3 910.4h12v12h-12zM968.5 911.6h12v12h-12zM976.8 912.9h12v12h-12zM985 914.2h12v12h-12zM993.2 915.6h12v12h-12zM1001.5 917h12v12h-12zM223.5 1395.1h1v1h-1zM231.2 1400.5h2v2h-2zM239 1406.9h3v3h-3zM246.7 1413.6h4v4h-4zM255 1421.7h4v4h-4zM263.2 1430.4h4.1v4.1h-4.1zM271.4 1438.9h4.1v4.1h-4.1zM279.6 1448.5h4.2v4.2h-4.2zM287.9 1458.5h4.2v4.2h-4.2zM296.1 1468.4h4.3v4.3h-4.3zM304.3 1478.5h4.3v4.3h-4.3zM312.5 1488.9h4.3v4.3h-4.3zM320.8 1500h4.4v4.4h-4.4zM329 1511h4.4v4.4h-4.4zM337.2 1522h4.5v4.5h-4.5zM345.4 1533.3h4.5v4.5h-4.5zM353.7 1544.7h4.5v4.5h-4.5zM361.9 1556.1h4.6v4.6h-4.6zM370.1 1567.8h4.6v4.6h-4.6zM378.4 1579.3h4.7v4.7h-4.7zM386.6 1590.2h4.7v4.7h-4.7zM394.8 1601.2h4.8v4.8h-4.8zM223.5 1406.5h0.9v0.9h-0.9zM231.3 1415.7h1.8v1.8h-1.8zM239.1 1425.9h2.7v2.7h-2.7zM246.9 1437h3.6v3.6h-3.6zM255.2 1449.4h3.6v3.6h-3.6zM263.4 1462.1h3.7v3.7h-3.7zM271.6 1475.9h3.8v3.8h-3.8zM279.8 1490.3h3.8v3.8h-3.8zM288 1505.4h3.9v3.9h-3.9zM296.3 1520.8h3.9v3.9h-3.9zM304.5 1536.5h4v4h-4zM312.7 1552.7h4v4h-4zM320.9 1569h4v4h-4zM329.2 1585.8h4.1v4.1h-4.1z"/>
<g fill="#56b4e9" fill-opacity="0.75" stroke="#56b4e9"><circle cx="174.5" cy="1039.6" r="1" stroke-width="1.1"/><circle cx="182.7" cy="1039.2" r="1" stroke-width="1.1"/><circle cx="191" cy="1037.5" r="1" stroke-width="1.1"/><circle cx="199.2" cy="1035" r="1" stroke-width="1.1"/><circle cx="207.5" cy="1031.4" r="1" stroke-width="1.1"/><circle cx="215.7" cy="1027.1" r="1" stroke-width="1.1"/><circle cx="224" cy="1022.2" r="1" stroke-width="1.1"/><circle cx="232.2" cy="1016.5" r="1" stroke-width="1.1"/><circle cx="240.5" cy="1010.8" r="1" stroke-width="1.1"/><circle cx="248.7" cy="1004.9" r="1" stroke-width="1.1"/><circle cx="257" cy="998.8" r="1" stroke-width="1.1"/><circle cx="265.2" cy="992.3" r="1" stroke-width="1.1"/><circle cx="273.5" cy="985.2" r="1" stroke-width="1.1"/><circle cx="281.7" cy="977.3" r="1" stroke-width="1.1"/><circle cx="290" cy="969.2" r="1" stroke-width="1.1"/><circle cx="298.2" cy="960.6" r="1" stroke-width="1.1"/><circle cx="306.5" cy="952" r="1" stroke-width="1.1"/><circle cx="314.7" cy="942.8" r="1" stroke-width="1.1"/><circle cx="323" cy="933.7" r="1" stroke-width="1.1"/><circle cx="331.2" cy="925.1" r="1" stroke-width="1.1"/><circle cx="339.5" cy="917.3" r="1" stroke-width="1.1"/><circle cx="174.5" cy="1042" r="1" stroke-width="1.2"/><circle cx="182.7" cy="1041.3" r="1" stroke-width="1.2"/><circle cx="191" cy="1039.7" r="1" stroke-width="1.2"/><circle cx="199.2" cy="1036.6" r="1" stroke-width="1.2"/><circle cx="207.5" cy="1033" r="1" stroke-width="1.2"/><circle cx="215.7" cy="1028.6" r="1" stroke-width="1.2"/><circle cx="224" cy="1023.5" r="1" stroke-width="1.2"/><circle cx="232.2" cy="1017.9" r="1" stroke-width="1.2"/><circle cx="240.5" cy="1012.3" r="1" stroke-width="1.2"/><circle cx="248.7" cy="1006.5" r="1" stroke-width="1.2"/><circle cx="257" cy="1000.4" r="1" stroke-width="1.2"/><circle cx="265.2" cy="994" r="1" stroke-width="1.2"/><circle cx="273.5" cy="987.4" r="1" stroke-width="1.2"/><circle cx="281.7" cy="980.9" r="1" stroke-width="1.2"/><circle cx="290" cy="974.7" r="1" stroke-width="1.2"/><circle cx="298.2" cy="968.6" r="1" stroke-width="1.2"/><circle cx="306.5" cy="962.7" r="1" stroke-width="1.2"/><circle cx="314.7" cy="957.6" r="1" stroke-width="1.2"/><circle cx="323" cy="954.3" r="1" stroke-width="1.2"/><circle cx="331.2" cy="952.4" r="1" stroke-width="1.2"/><circle cx="339.5" cy="951.4" r="1" stroke-width="1.2"/><circle cx="347.7" cy="951" r="1" stroke-width="1.2"/><circle cx="355.9" cy="951.4" r="1" stroke-width="1.2"/><circle cx="364.2" cy="952.8" r="1" stroke-width="1.2"/><circle cx="372.4" cy="954.9" r="1" stroke-width="1.2"/><circle cx="380.7" cy="957.2" r="1" stroke-width="1.2"/><circle cx="388.9" cy="960" r="1" stroke-width="1.2"/><circle cx="397.2" cy="963.2" r="1" stroke-width="1.2"/><circle cx="405.4" cy="966.2" r="1" stroke-width="1.2"/><circle cx="413.7" cy="969.6" r="1" stroke-width="1.2"/><circle cx="421.9" cy="973" r="1" stroke-width="1.2"/><circle cx="430.2" cy="976.3" r="1" stroke-width="1.2"/><circle cx="438.4" cy="979.3" r="1" stroke-width="1.2"/><circle cx="446.7" cy="982.2" r="1" stroke-width="1.2"/><circle cx="454.9" cy="984.7" r="1" stroke-width="1.2"/><circle cx="463.2" cy="987.6" r="1" stroke-width="1.2"/><circle cx="471.4" cy="991" r="1" stroke-width="1.2"/><circle cx="479.7" cy="994.3" r="1" stroke-width="1.2"/><circle cx="487.9" cy="997.1" r="1" stroke-width="1.2"/><circle cx="496.2" cy="999.7" r="1" stroke-width="1.2"/><circle cx="504.4" cy="1002.5" r="1" stroke-width="1.2"/><circle cx="512.6" cy="1005.2" r="1" stroke-width="1.2"/><circle cx="520.9" cy="1007.6" r="1" stroke-width="1.2"/><circle cx="529.1" cy="1009.7" r="1" stroke-width="1.2"/><circle cx="537.4" cy="1011.7" r="1" stroke-width="1.2"/><circle cx="545.6" cy="1013.4" r="1" stroke-width="1.2"/><circle cx="553.9" cy="1015" r="1" stroke-width="1.2"/><circle cx="562.1" cy="1016.5" r="1" stroke-width="1.2"/><circle cx="570.4" cy="1017.7" r="1" stroke-width="1.2"/><circle cx="578.6" cy="1018.7" r="1" stroke-width="1.2"/><circle cx="586.9" cy="1019.5" r="1" stroke-width="1.2"/><circle cx="595.1" cy="1020.1" r="1" stroke-width="1.2"/><circle cx="603.4" cy="1020.6" r="1" stroke-width="1.2"/><circle cx="611.6" cy="1020.9" r="1" stroke-width="1.2"/><circle cx="619.9" cy="1021" r="1" stroke-width="1.2"/><circle cx="628.1" cy="1020.8" r="1" stroke-width="1.2"/><circle cx="636.4" cy="1020.6" r="1" stroke-width="1.2"/><circle cx="644.6" cy="1020" r="1" stroke-width="1.2"/><circle cx="652.9" cy="1019" r="1" stroke-width="1.2"/><circle cx="661.1" cy="1017.9" r="1" stroke-width="1.2"/><circle cx="669.4" cy="1016.5" r="1" stroke-width="1.2"/><circle cx="677.6" cy="1014.9" r="1" stroke-width="1.2"/><circle cx="685.8" cy="1013.4" r="1" stroke-width="1.2"/><circle cx="694.1" cy="1011.7" r="1" stroke-width="1.2"/><circle cx="702.3" cy="1009.9" r="1" stroke-width="1.2"/><circle cx="710.6" cy="1007.8" r="1" stroke-width="1.2"/><circle cx="718.8" cy="1005.7" r="1" stroke-width="1.2"/><circle cx="727.1" cy="1003.7" r="1" stroke-width="1.2"/><circle cx="735.3" cy="1001.6" r="1" stroke-width="1.2"/><circle cx="743.6" cy="999.3" r="1" stroke-width="1.2"/><circle cx="751.8" cy="996.8" r="1" stroke-width="1.2"/><circle cx="760.1" cy="994.3" r="1" stroke-width="1.2"/><circle cx="768.3" cy="991.8" r="1" stroke-width="1.2"/><circle cx="776.6" cy="989.3" r="1" stroke-width="1.2"/><circle cx="784.8" cy="986.7" r="1" stroke-width="1.2"/><circle cx="793.1" cy="984" r="1" stroke-width="1.2"/><circle cx="801.3" cy="981.3" r="1" stroke-width="1.2"/><circle cx="809.6" cy="978.6" r="1" stroke-width="1.2"/><circle cx="817.8" cy="975.9" r="1" stroke-width="1.2"/><circle cx="826.1" cy="973.3" r="1" stroke-width="1.2"/><circle cx="834.3" cy="970.6" r="1" stroke-width="1.2"/><circle cx="842.5" cy="968" r="1" stroke-width="1.2"/><circle cx="850.8" cy="965.4" r="1" stroke-width="1.2"/><circle cx="859" cy="962.8" r="1" stroke-width="1.2"/><circle cx="867.3" cy="960.2" r="1" stroke-width="1.2"/><circle cx="875.5" cy="957.5" r="1" stroke-width="1.2"/><circle cx="883.8" cy="954.9" r="1" stroke-width="1.2"/><circle cx="892" cy="952.2" r="1" stroke-width="1.2"/><circle cx="900.3" cy="949.4" r="1" stroke-width="1.2"/><circle cx="908.5" cy="946.8" r="1" stroke-width="1.2"/><circle cx="916.8" cy="944.2" r="1" stroke-width="1.2"/><circle cx="925" cy="941.8" r="1" stroke-width="1.2"/><circle cx="933.3" cy="939.6" r="1" stroke-width="1.2"/><circle cx="941.5" cy="937.4" r="1" stroke-width="1.2"/><circle cx="949.8" cy="935.2" r="1" stroke-width="1.2"/><circle cx="958" cy="933" r="1" stroke-width="1.2"/><circle cx="966.3" cy="930.7" r="1" stroke-width="1.2"/><circle cx="974.5" cy="928.7" r="1" stroke-width="1.2"/><circle cx="982.8" cy="927" r="1" stroke-width="1.2"/><circle cx="991" cy="925.5" r="1" stroke-width="1.2"/><circle cx="999.2" cy="924.3" r="1" stroke-width="1.2"/><circle cx="1007.5" cy="923.3" r="1" stroke-width="1.2"/><circle cx="174.5" cy="1141.8" r="1.5" stroke-width="1.5"/><circle cx="182.7" cy="1141.2" r="1.5" stroke-width="1.5"/><circle cx="191" cy="1140.6" r="1.5" stroke-width="1.5"/><circle cx="199.2" cy="1139.2" r="1.5" stroke-width="1.5"/><circle cx="207.5" cy="1137.1" r="1.5" stroke-width="1.5"/><circle cx="215.7" cy="1134.4" r="1.5" stroke-width="1.5"/><circle cx="224" cy="1131.2" r="1.5" stroke-width="1.5"/><circle cx="232.2" cy="1127.6" r="1.5" stroke-width="1.5"/><circle cx="240.5" cy="1123.8" r="1.5" stroke-width="1.5"/><circle cx="248.7" cy="1119.4" r="1.5" stroke-width="1.5"/><circle cx="257" cy="1114.4" r="1.5" stroke-width="1.5"/><circle cx="265.2" cy="1108.8" r="1.5" stroke-width="1.5"/><circle cx="273.5" cy="1103.3" r="1.5" stroke-width="1.5"/><circle cx="281.7" cy="1097.4" r="1.5" stroke-width="1.5"/><circle cx="290" cy="1091.1" r="1.5" stroke-width="1.5"/><circle cx="298.2" cy="1084.6" r="1.5" stroke-width="1.5"/><circle cx="306.5" cy="1078" r="1.4" stroke-width="1.5"/><circle cx="314.7" cy="1071.6" r="1.4" stroke-width="1.5"/><circle cx="323" cy="1065" r="1.4" stroke-width="1.5"/><circle cx="331.2" cy="1058.1" r="1.4" stroke-width="1.5"/><circle cx="339.5" cy="1051.3" r="1.4" stroke-width="1.5"/><circle cx="347.7" cy="1044.7" r="1.3" stroke-width="1.5"/><circle cx="355.9" cy="1038" r="1.3" stroke-width="1.5"/><circle cx="364.2" cy="1031.4" r="1.3" stroke-width="1.5"/><circle cx="372.4" cy="1024.2" r="1.3" stroke-width="1.5"/><circle cx="380.7" cy="1017.6" r="1.3" stroke-width="1.4"/><circle cx="388.9" cy="1011.5" r="1.3" stroke-width="1.4"/><circle cx="397.2" cy="1005" r="1.3" stroke-width="1.4"/><circle cx="405.4" cy="998.8" r="1.2" stroke-width="1.4"/><circle cx="413.7" cy="992.9" r="1.2" stroke-width="1.4"/><circle cx="421.9" cy="986.5" r="1.2" stroke-width="1.4"/><circle cx="430.2" cy="980.8" r="1.2" stroke-width="1.4"/><circle cx="438.4" cy="975.2" r="1.2" stroke-width="1.3"/><circle cx="446.7" cy="970" r="1.2" stroke-width="1.3"/><circle cx="454.9" cy="965" r="1.2" stroke-width="1.3"/><circle cx="463.2" cy="959.7" r="1.2" stroke-width="1.3"/><circle cx="471.4" cy="954.5" r="1.2" stroke-width="1.3"/><circle cx="479.7" cy="949.8" r="1.1" stroke-width="1.3"/><circle cx="487.9" cy="945.3" r="1.1" stroke-width="1.3"/><circle cx="496.2" cy="941.3" r="1.1" stroke-width="1.3"/><circle cx="504.4" cy="937.5" r="1.1" stroke-width="1.3"/><circle cx="512.6" cy="933.8" r="1.1" stroke-width="1.2"/><circle cx="520.9" cy="930.2" r="1.1" stroke-width="1.2"/><circle cx="529.1" cy="926.8" r="1.1" stroke-width="1.2"/><circle cx="537.4" cy="923.5" r="1.1" stroke-width="1.2"/><circle cx="545.6" cy="920.8" r="1.1" stroke-width="1.2"/><circle cx="553.9" cy="918.4" r="1.1" stroke-width="1.2"/><circle cx="562.1" cy="916.3" r="1" stroke-width="1.2"/><circle cx="570.4" cy="914.4" r="1" stroke-width="1.2"/><circle cx="578.6" cy="912.8" r="1" stroke-width="1.2"/><circle cx="941.5" cy="912.9" r="1" stroke-width="1.1"/><circle cx="949.8" cy="914.1" r="1" stroke-width="1.1"/><circle cx="958" cy="915.2" r="1" stroke-width="1.1"/><circle cx="966.3" cy="916.4" r="1" stroke-width="1.1"/><circle cx="974.5" cy="917.6" r="1" stroke-width="1.1"/><circle cx="982.8" cy="918.9" r="1" stroke-width="1.1"/><circle cx="991" cy="920.2" r="1" stroke-width="1.1"/><circle cx="999.2" cy="921.6" r="1" stroke-width="1.1"/><circle cx="1007.5" cy="923" r="1" stroke-width="1.1"/><circle cx="174.5" cy="1378.8" r="2" stroke-width="1.5"/><circle cx="182.7" cy="1378.8" r="1.9" stroke-width="1.5"/><circle cx="191" cy="1380.9" r="1.9" stroke-width="1.5"/><circle cx="199.2" cy="1383" r="1.8" stroke-width="1.5"/><circle cx="207.5" cy="1386.4" r="1.8" stroke-width="1.5"/><circle cx="215.7" cy="1390.5" r="1.5" stroke-width="1.5"/><circle cx="224" cy="1395.6" r="1.3" stroke-width="1.4"/><circle cx="232.2" cy="1401.5" r="1.1" stroke-width="1.3"/><circle cx="240.5" cy="1408.4" r="1" stroke-width="1.1"/><circle cx="248.7" cy="1415.6" r="0.5" stroke-width="0.5"/><circle cx="174.5" cy="1378.8" r="2" stroke-width="1.5"/><circle cx="182.7" cy="1379.3" r="1.9" stroke-width="1.5"/><circle cx="191" cy="1381.9" r="1.9" stroke-width="1.5"/><circle cx="199.2" cy="1386" r="1.8" stroke-width="1.5"/><circle cx="207.5" cy="1391.9" r="1.8" stroke-width="1.5"/><circle cx="215.7" cy="1398.7" r="1.5" stroke-width="1.5"/><circle cx="224" cy="1407" r="1.3" stroke-width="1.4"/><circle cx="232.2" cy="1416.6" r="1.1" stroke-width="1.3"/><circle cx="240.5" cy="1427.2" r="1" stroke-width="1.1"/><circle cx="248.7" cy="1438.8" r="0.5" stroke-width="0.5"/></g>
<path fill="#e69f00" d="M174.5 1038.6l0.9 1.5h-1.8zM182.7 1038.2l0.9 1.5h-1.8zM191 1036.5l0.9 1.5h-1.8zM199.2 1034l0.9 1.5h-1.8zM207.5 1030.4l0.9 1.5h-1.8zM215.7 1026.1l0.9 1.5h-1.8zM224 1021.2l0.9 1.5h-1.8zM232.2 1015.5l0.9 1.5h-1.8zM240.5 1009.8l0.9 1.5h-1.8zM248.7 1003.9l0.9 1.5h-1.8zM257 997.8l0.9 1.5h-1.8zM265.2 991.3l0.9 1.5h-1.8zM273.5 984.2l0.9 1.5h-1.8zM281.7 976.3l0.9 1.5h-1.8zM290 968.2l0.9 1.5h-1.8zM298.2 959.6l0.9 1.5h-1.8zM306.5 951l0.9 1.5h-1.8zM314.7 941.8l0.9 1.5h-1.8zM323 932.7l0.9 1.5h-1.8zM331.2 924.1l0.9 1.5h-1.8zM339.5 916.3l0.9 1.5h-1.8zM892 951.8l0.4 0.6h-0.7zM900.3 948.8l0.5 0.9h-1.1zM908.5 946l0.7 1.2h-1.4zM916.8 943.2l0.9 1.5h-1.8zM925 940.8l0.9 1.5h-1.8zM933.3 938.6l0.9 1.5h-1.8zM941.5 936.4l0.9 1.5h-1.8zM949.8 934.2l0.9 1.5h-1.8zM958 932l0.9 1.5h-1.8zM966.3 929.7l0.9 1.5h-1.8zM974.5 927.7l0.9 1.5h-1.8zM982.8 926l0.9 1.5h-1.8zM991 924.5l0.9 1.5h-1.8zM999.2 923.3l0.9 1.5h-1.8zM1007.5 922.3l0.9 1.5h-1.8zM174.5 1375l3.4 5.5h-6.8zM182.7 1375l3.4 5.5h-6.8zM191 1377.1l3.4 5.5h-6.8zM199.2 1379.2l3.4 5.5h-6.7zM207.5 1382.6l3.4 5.4h-6.7zM215.7 1386.8l3.3 5.4h-6.7zM224 1391.9l3.3 5.4h-6.7zM232.2 1397.8l3.3 5.4h-6.7zM240.5 1404.7l3.3 5.4h-6.6zM248.7 1411.9l3.3 5.4h-6.6zM257 1420l3.3 5.3h-6.6zM265.2 1428.7l3.3 5.3h-6.6zM273.5 1437.3l3.3 5.3h-6.5zM281.7 1446.9l3.3 5.3h-6.5zM290 1457l3.2 5.3h-6.5zM298.2 1466.9l3.2 5.2h-6.5zM306.5 1477l3.2 5.2h-6.5zM314.7 1487.5l3.2 5.2h-6.4zM323 1498.6l3.2 5.2h-6.4zM331.2 1509.6l3.2 5.2h-6.4zM339.5 1520.6l3.2 5.2h-6.4zM347.7 1532l3.2 5.1h-6.3zM355.9 1543.5l3.2 5.1h-6.3zM364.2 1554.9l3.2 5.1h-6.3zM372.4 1566.6l3.1 5.1h-6.3zM380.7 1578.1l3.1 5.1h-6.3zM388.9 1589.1l3.1 5.1h-6.2zM397.2 1600.1l3.1 5h-6.2zM174.5 1375l3.4 5.5h-6.8zM182.7 1375.5l3.4 5.5h-6.8zM191 1378.1l3.4 5.5h-6.7zM199.2 1382.2l3.4 5.4h-6.7zM207.5 1388.2l3.3 5.4h-6.7zM215.7 1395l3.3 5.4h-6.7zM224 1403.3l3.3 5.4h-6.6zM232.2 1412.9l3.3 5.3h-6.6zM240.5 1423.5l3.3 5.3h-6.6zM248.7 1435.1l3.3 5.3h-6.5zM257 1447.6l3.3 5.3h-6.5zM265.2 1460.3l3.2 5.3h-6.5zM273.5 1474.2l3.2 5.2h-6.5zM281.7 1488.6l3.2 5.2h-6.4zM290 1503.7l3.2 5.2h-6.4zM298.2 1519.2l3.2 5.2h-6.4zM306.5 1534.9l3.2 5.1h-6.3zM314.7 1551.2l3.2 5.1h-6.3zM323 1567.5l3.1 5.1h-6.3zM331.2 1584.3l3.1 5.1h-6.3z"/>
<path d="M174.6 1256.7h9.5M1007.5 1256.7h-9.5" stroke="#000" stroke-width="2" fill="none"/>
<rect x="174.6" y="909.5" width="832.9" height="694.3" fill="none" stroke="#000" stroke-width="3.2"/>
<g font-family="Liberation Sans, sans-serif" fill="#000">
<g font-weight="bold">
<text x="-3" y="45" font-size="62">(a)</text>
<text x="-3" y="921.8" font-size="62">(b)</text>
<clipPath id="k0"><path d="M100 42H147.4V84H140V76.7H100z"/></clipPath>
<g clip-path="url(#k0)"><text transform="translate(155.5 82) scale(1.2 1.043)" font-size="39" text-anchor="end">1</text></g>
<clipPath id="k1"><path d="M100 736.3H147.4V778.3H140V771H100z"/></clipPath>
<g clip-path="url(#k1)"><text transform="translate(155.5 776.3) scale(1.2 1.043)" font-size="39" text-anchor="end">-1</text></g>
<clipPath id="k2"><path d="M100 883.2H147.4V925.2H140V917.9H100z"/></clipPath>
<g clip-path="url(#k2)"><text transform="translate(155.5 923.2) scale(1.2 1.043)" font-size="39" text-anchor="end">1</text></g>
<clipPath id="k3"><path d="M100 1577.7H147.4V1619.7H140V1612.4H100z"/></clipPath>
<g clip-path="url(#k3)"><text transform="translate(155.5 1617.7) scale(1.2 1.043)" font-size="39" text-anchor="end">1</text></g>
<text transform="translate(1007.6 812.7) scale(1 1.043)" font-size="40" text-anchor="middle">X</text>
<text transform="translate(1007.6 1653.7) scale(1 1.043)" font-size="40" text-anchor="middle">X</text>
<text transform="translate(96 425.1) scale(1 1.043)" font-size="40" text-anchor="start">E<tspan font-size="32" dy="10.9" dx="-0.6">F</tspan></text>
<text transform="translate(106.6 1266.0) scale(1 1.043)" font-size="40" text-anchor="start">E<tspan font-size="32" dy="10.9" dx="-0.3">F</tspan></text>
<text transform="translate(66.7 415.3) rotate(-90) scale(1 1.055)" font-size="49" text-anchor="middle">Energy (eV)</text>
<text transform="translate(89.2 1256.4) rotate(-90) scale(1 1.055)" font-size="49" text-anchor="middle">Energy (eV)</text>
</g>
<text transform="translate(175 812.7) scale(1.2 1)" font-family="Liberation Serif, serif" font-size="40.5" text-anchor="middle">Γ</text>
<text transform="translate(175 1653.9) scale(1.2 1)" font-family="Liberation Serif, serif" font-size="40.5" text-anchor="middle">Γ</text>
<text transform="translate(262 31.4) scale(1 1.043)" font-size="37" text-anchor="start">Ti<tspan font-size="30" dy="10.9">3d</tspan></text>
<text transform="translate(502 31.4) scale(1 1.043)" font-size="37" text-anchor="start">O<tspan font-size="30" dy="10.9">2p</tspan></text>
<text transform="translate(734.5 31.4) scale(1 1.043)" font-size="37" text-anchor="start">C<tspan font-size="30" dy="10.9">2p</tspan></text>
</g>
<rect x="391" y="8.2" width="29.2" height="28.8" fill="none" stroke="#0b9e73" stroke-width="1.7"/>
<circle cx="405.7" cy="22.7" r="0.9" fill="#0b9e73"/>
<circle cx="634.4" cy="22.6" r="14.4" fill="none" stroke="#56b4e9" stroke-width="1.7"/>
<circle cx="634.4" cy="22.6" r="0.9" fill="#56b4e9"/>
<path d="M864 6.3L878.7 30.4H849.3z" fill="#e69f00"/>
<text transform="translate(734.3 200.6) scale(1 1.043)" font-size="63.5" font-family="Liberation Sans, sans-serif"><tspan dy="0">Ti</tspan><tspan font-family="Liberation Serif, serif" font-size="41.5" dy="9.1">3</tspan><tspan dy="-9.1">C</tspan><tspan font-family="Liberation Serif, serif" font-size="41.5" dy="9.1">2</tspan><tspan dy="-9.1">O</tspan><tspan font-family="Liberation Serif, serif" font-size="41.5" dy="9.1">2</tspan></text>
<text transform="translate(769 1066) scale(1 1.043)" font-size="63.5" font-family="Liberation Sans, sans-serif"><tspan dy="0">Ti</tspan><tspan font-family="Liberation Serif, serif" font-size="41.5" dy="9.1">2</tspan><tspan dy="-9.1">CO</tspan><tspan font-family="Liberation Serif, serif" font-size="41.5" dy="9.1">2</tspan></text>
</svg>
</body></html>
